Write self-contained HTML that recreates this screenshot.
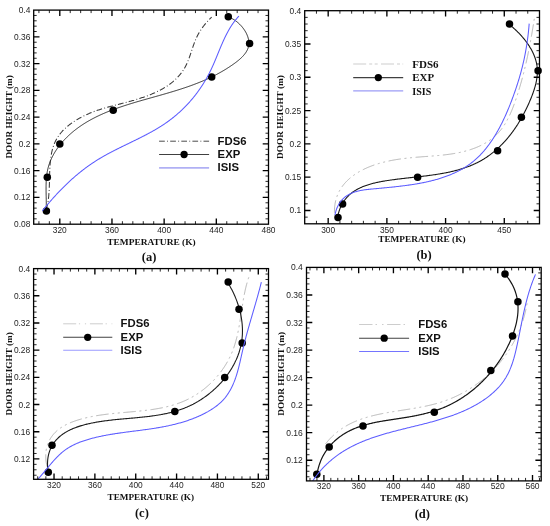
<!DOCTYPE html>
<html><head><meta charset="utf-8"><title>Temperature profiles</title>
<style>html,body{margin:0;padding:0;background:#fff;}body{width:550px;height:526px;overflow:hidden;}svg{display:block;}</style>
</head><body>
<svg width="550" height="526" viewBox="0 0 550 526">
<rect width="550" height="526" fill="#fff"/>
<defs><clipPath id="ca"><rect x="33.7" y="10.1" width="234.8" height="214.1"/></clipPath><clipPath id="cb"><rect x="304.7" y="10.7" width="234.8" height="213.1"/></clipPath><clipPath id="cc"><rect x="33.6" y="268.6" width="234.9" height="210.7"/></clipPath><clipPath id="cd"><rect x="306.5" y="267.4" width="234.7" height="213.5"/></clipPath></defs>
<path d="M46.15,209.68 L46.34,209.06 L46.53,208.43 L46.7,207.79 L46.87,207.15 L47.03,206.51 L47.18,205.86 L47.33,205.21 L47.47,204.55 L47.6,203.89 L47.73,203.23 L47.85,202.56 L47.97,201.89 L48.08,201.22 L48.18,200.54 L48.28,199.86 L48.37,199.18 L48.45,198.49 L48.54,197.8 L48.61,197.11 L48.69,196.41 L48.75,195.71 L48.82,195.01 L48.88,194.31 L48.93,193.6 L48.98,192.9 L49.03,192.19 L49.08,191.48 L49.12,190.76 L49.16,190.05 L49.19,189.33 L49.23,188.61 L49.26,187.89 L49.29,187.17 L49.32,186.44 L49.34,185.72 L49.36,184.99 L49.39,184.26 L49.41,183.54 L49.43,182.81 L49.44,182.08 L49.46,181.35 L49.48,180.61 L49.5,179.88 L49.51,179.15 L49.53,178.42 L49.55,177.69 L49.56,176.95 L49.58,176.22 L49.6,175.49 L49.62,174.76 L49.64,174.02 L49.66,173.29 L49.68,172.56 L49.71,171.83 L49.73,171.1 L49.76,170.37 L49.79,169.64 L49.82,168.91 L49.86,168.19 L49.9,167.46 L49.94,166.74 L49.98,166.02 L50.03,165.3 L50.08,164.58 L50.13,163.86 L50.19,163.14 L50.25,162.43 L50.32,161.72 L50.39,161.01 L50.47,160.3 L50.55,159.59 L50.63,158.89 L50.72,158.19 L50.82,157.49 L50.92,156.8 L51.03,156.1 L51.14,155.41 L51.26,154.73 L51.38,154.04 L51.51,153.36 L51.65,152.68 L51.79,152.01 L51.95,151.34 L52.1,150.67 L52.27,150.01 L52.44,149.35 L52.62,148.69 L52.81,148.04 L53.01,147.39 L53.22,146.75 L53.43,146.11 L53.65,145.47 L53.88,144.84 L54.12,144.22 L54.37,143.59 L54.63,142.98 L54.9,142.37 L55.18,141.76 L55.46,141.16 L55.76,140.56 L56.07,139.97 L56.39,139.38 L56.72,138.8 L57.06,138.22 L57.41,137.65 L57.76,137.09 L58.13,136.53 L58.51,135.97 L58.9,135.42 L59.3,134.88 L59.71,134.34 L60.12,133.81 L60.55,133.28 L60.98,132.76 L61.43,132.24 L61.88,131.73 L62.34,131.22 L62.8,130.72 L63.28,130.22 L63.76,129.73 L64.25,129.24 L64.75,128.76 L65.26,128.28 L65.77,127.81 L66.29,127.35 L66.81,126.89 L67.35,126.43 L67.88,125.98 L68.43,125.54 L68.98,125.1 L69.54,124.66 L70.1,124.23 L70.67,123.81 L71.24,123.39 L71.82,122.97 L72.41,122.56 L73,122.16 L73.59,121.76 L74.19,121.36 L74.79,120.97 L75.4,120.58 L76.01,120.2 L76.63,119.83 L77.25,119.46 L77.87,119.09 L78.5,118.73 L79.13,118.38 L79.76,118.03 L80.4,117.68 L81.03,117.34 L81.68,117 L82.32,116.67 L82.97,116.34 L83.61,116.02 L84.26,115.71 L84.92,115.39 L85.57,115.09 L86.23,114.78 L86.88,114.49 L87.54,114.19 L88.2,113.9 L88.86,113.62 L89.52,113.34 L90.18,113.07 L90.84,112.8 L91.5,112.53 L92.16,112.27 L92.82,112.01 L93.49,111.76 L94.15,111.51 L94.81,111.27 L95.48,111.03 L96.14,110.79 L96.81,110.56 L97.47,110.33 L98.14,110.1 L98.8,109.88 L99.47,109.66 L100.13,109.45 L100.8,109.23 L101.47,109.02 L102.13,108.82 L102.8,108.61 L103.47,108.41 L104.14,108.21 L104.81,108.01 L105.48,107.82 L106.15,107.62 L106.82,107.43 L107.49,107.24 L108.16,107.06 L108.83,106.87 L109.51,106.69 L110.18,106.5 L110.85,106.32 L111.53,106.14 L112.2,105.96 L112.87,105.79 L113.55,105.61 L114.23,105.43 L114.9,105.26 L115.58,105.08 L116.25,104.91 L116.93,104.74 L117.61,104.56 L118.29,104.39 L118.97,104.21 L119.65,104.04 L120.33,103.87 L121.01,103.69 L121.69,103.52 L122.37,103.34 L123.05,103.17 L123.73,102.99 L124.41,102.81 L125.1,102.64 L125.78,102.46 L126.47,102.28 L127.15,102.09 L127.84,101.91 L128.52,101.73 L129.21,101.54 L129.9,101.35 L130.58,101.16 L131.27,100.97 L131.96,100.78 L132.65,100.58 L133.33,100.38 L134.02,100.19 L134.71,99.98 L135.39,99.78 L136.08,99.58 L136.77,99.37 L137.45,99.16 L138.14,98.95 L138.82,98.73 L139.51,98.51 L140.19,98.29 L140.87,98.07 L141.55,97.85 L142.23,97.62 L142.91,97.39 L143.59,97.16 L144.27,96.92 L144.94,96.68 L145.62,96.44 L146.29,96.2 L146.96,95.95 L147.63,95.7 L148.29,95.44 L148.96,95.19 L149.62,94.93 L150.28,94.66 L150.94,94.39 L151.6,94.12 L152.25,93.85 L152.9,93.57 L153.55,93.29 L154.2,93 L154.84,92.72 L155.48,92.42 L156.12,92.13 L156.76,91.83 L157.39,91.52 L158.02,91.21 L158.64,90.9 L159.27,90.59 L159.89,90.26 L160.5,89.94 L161.12,89.61 L161.73,89.28 L162.33,88.94 L162.93,88.6 L163.53,88.25 L164.13,87.9 L164.72,87.54 L165.3,87.18 L165.88,86.81 L166.46,86.44 L167.03,86.07 L167.6,85.69 L168.17,85.3 L168.73,84.91 L169.28,84.52 L169.83,84.12 L170.38,83.71 L170.92,83.3 L171.46,82.89 L171.99,82.46 L172.51,82.04 L173.03,81.61 L173.55,81.17 L174.06,80.72 L174.56,80.28 L175.06,79.82 L175.55,79.36 L176.04,78.89 L176.52,78.42 L177,77.94 L177.47,77.46 L177.93,76.97 L178.39,76.47 L178.84,75.97 L179.29,75.46 L179.72,74.95 L180.16,74.43 L180.58,73.9 L181,73.37 L181.41,72.83 L181.82,72.28 L182.22,71.73 L182.61,71.17 L182.99,70.6 L183.37,70.02 L183.74,69.44 L184.1,68.86 L184.46,68.26 L184.81,67.66 L185.15,67.05 L185.48,66.44 L185.8,65.82 L186.12,65.19 L186.43,64.55 L186.73,63.91 L187.03,63.26 L187.32,62.6 L187.6,61.94 L187.88,61.27 L188.15,60.6 L188.42,59.93 L188.68,59.25 L188.94,58.56 L189.19,57.87 L189.44,57.18 L189.69,56.49 L189.93,55.79 L190.17,55.09 L190.41,54.39 L190.65,53.69 L190.88,52.99 L191.12,52.28 L191.35,51.58 L191.58,50.87 L191.82,50.16 L192.05,49.46 L192.29,48.75 L192.52,48.05 L192.76,47.35 L193,46.65 L193.24,45.95 L193.48,45.25 L193.73,44.56 L193.98,43.87 L194.23,43.19 L194.48,42.5 L194.75,41.82 L195.01,41.15 L195.28,40.48 L195.56,39.82 L195.84,39.16 L196.13,38.5 L196.42,37.86 L196.72,37.22 L197.03,36.58 L197.34,35.95 L197.66,35.33 L197.99,34.71 L198.32,34.09 L198.65,33.48 L199,32.88 L199.35,32.28 L199.7,31.69 L200.07,31.1 L200.44,30.52 L200.81,29.94 L201.19,29.36 L201.58,28.79 L201.97,28.22 L202.37,27.66 L202.78,27.1 L203.19,26.55 L203.61,26 L204.03,25.45 L204.46,24.91 L204.9,24.37 L205.34,23.84 L205.79,23.3 L206.25,22.77 L206.71,22.25 L207.17,21.72 L207.65,21.2 L208.13,20.69 L208.61,20.17 L209.1,19.66 L209.6,19.15 L210.1,18.64 L210.61,18.14 L211.13,17.64 L211.65,17.14" fill="none" stroke="#383838" stroke-width="1.05" stroke-linejoin="round" stroke-dasharray="5.7 2.3 0.9 2.2" clip-path="url(#ca)"/>
<path d="M46.12,210.76 L46.16,210.01 L46.2,209.24 L46.23,208.48 L46.25,207.7 L46.27,206.93 L46.28,206.14 L46.29,205.35 L46.29,204.56 L46.3,203.77 L46.29,202.97 L46.29,202.16 L46.28,201.35 L46.27,200.54 L46.25,199.73 L46.24,198.91 L46.22,198.09 L46.2,197.27 L46.19,196.44 L46.17,195.62 L46.15,194.79 L46.13,193.95 L46.12,193.12 L46.1,192.29 L46.09,191.45 L46.08,190.61 L46.07,189.78 L46.07,188.94 L46.07,188.1 L46.07,187.26 L46.07,186.42 L46.08,185.58 L46.1,184.74 L46.12,183.9 L46.15,183.07 L46.18,182.23 L46.22,181.39 L46.26,180.56 L46.31,179.72 L46.37,178.89 L46.44,178.06 L46.52,177.23 L46.6,176.41 L46.69,175.58 L46.8,174.76 L46.91,173.95 L47.03,173.13 L47.17,172.32 L47.31,171.51 L47.47,170.71 L47.63,169.9 L47.81,169.11 L48,168.31 L48.21,167.53 L48.42,166.74 L48.65,165.96 L48.89,165.18 L49.14,164.41 L49.4,163.64 L49.68,162.88 L49.96,162.12 L50.26,161.37 L50.56,160.62 L50.88,159.87 L51.2,159.13 L51.54,158.4 L51.89,157.66 L52.25,156.94 L52.61,156.22 L52.99,155.5 L53.37,154.78 L53.77,154.08 L54.17,153.37 L54.59,152.67 L55.01,151.98 L55.44,151.29 L55.87,150.61 L56.32,149.93 L56.77,149.25 L57.24,148.58 L57.7,147.92 L58.18,147.26 L58.67,146.61 L59.16,145.96 L59.66,145.31 L60.16,144.68 L60.67,144.04 L61.19,143.41 L61.71,142.79 L62.25,142.17 L62.78,141.56 L63.32,140.96 L63.87,140.35 L64.42,139.76 L64.98,139.17 L65.55,138.58 L66.11,138 L66.69,137.43 L67.27,136.86 L67.85,136.3 L68.43,135.74 L69.02,135.19 L69.62,134.65 L70.22,134.11 L70.82,133.57 L71.43,133.04 L72.04,132.52 L72.65,132 L73.27,131.49 L73.89,130.98 L74.51,130.48 L75.14,129.98 L75.77,129.49 L76.41,129 L77.05,128.52 L77.69,128.05 L78.34,127.57 L78.99,127.11 L79.64,126.65 L80.3,126.19 L80.96,125.74 L81.62,125.29 L82.29,124.84 L82.96,124.41 L83.63,123.97 L84.31,123.54 L84.99,123.12 L85.67,122.7 L86.36,122.28 L87.04,121.87 L87.74,121.46 L88.43,121.06 L89.13,120.66 L89.83,120.27 L90.53,119.87 L91.23,119.49 L91.94,119.1 L92.65,118.73 L93.37,118.35 L94.08,117.98 L94.8,117.61 L95.52,117.25 L96.24,116.89 L96.97,116.53 L97.7,116.18 L98.43,115.83 L99.16,115.48 L99.89,115.14 L100.63,114.8 L101.37,114.47 L102.11,114.13 L102.86,113.81 L103.6,113.48 L104.35,113.16 L105.1,112.84 L105.85,112.52 L106.6,112.21 L107.36,111.9 L108.12,111.59 L108.88,111.28 L109.64,110.98 L110.4,110.68 L111.16,110.39 L111.93,110.09 L112.7,109.8 L113.47,109.51 L114.24,109.23 L115.01,108.94 L115.78,108.66 L116.56,108.38 L117.33,108.1 L118.11,107.83 L118.89,107.56 L119.67,107.29 L120.45,107.02 L121.23,106.75 L122.02,106.49 L122.8,106.23 L123.59,105.97 L124.37,105.71 L125.16,105.45 L125.95,105.2 L126.74,104.95 L127.53,104.7 L128.32,104.45 L129.11,104.2 L129.9,103.95 L130.7,103.71 L131.49,103.46 L132.29,103.22 L133.08,102.98 L133.88,102.74 L134.67,102.5 L135.47,102.27 L136.27,102.03 L137.06,101.79 L137.86,101.56 L138.66,101.33 L139.46,101.1 L140.26,100.87 L141.06,100.64 L141.85,100.41 L142.65,100.18 L143.45,99.95 L144.25,99.72 L145.05,99.5 L145.85,99.27 L146.65,99.05 L147.45,98.82 L148.25,98.6 L149.04,98.37 L149.84,98.15 L150.64,97.92 L151.44,97.7 L152.24,97.48 L153.03,97.25 L153.83,97.03 L154.63,96.81 L155.42,96.58 L156.22,96.36 L157.01,96.14 L157.8,95.91 L158.6,95.69 L159.39,95.47 L160.18,95.24 L160.97,95.02 L161.77,94.79 L162.56,94.57 L163.35,94.34 L164.14,94.11 L164.92,93.89 L165.71,93.66 L166.5,93.43 L167.29,93.2 L168.07,92.97 L168.86,92.74 L169.64,92.51 L170.43,92.28 L171.21,92.04 L172,91.81 L172.78,91.57 L173.56,91.34 L174.34,91.1 L175.12,90.86 L175.9,90.62 L176.68,90.38 L177.45,90.13 L178.23,89.89 L179.01,89.64 L179.78,89.39 L180.56,89.15 L181.33,88.9 L182.1,88.64 L182.87,88.39 L183.65,88.13 L184.42,87.88 L185.19,87.62 L185.95,87.36 L186.72,87.09 L187.49,86.83 L188.25,86.56 L189.02,86.29 L189.78,86.02 L190.54,85.75 L191.31,85.47 L192.07,85.2 L192.83,84.92 L193.58,84.63 L194.34,84.35 L195.1,84.06 L195.85,83.77 L196.61,83.48 L197.36,83.19 L198.12,82.89 L198.87,82.59 L199.62,82.29 L200.37,81.98 L201.11,81.67 L201.86,81.36 L202.61,81.05 L203.35,80.73 L204.09,80.41 L204.84,80.09 L205.58,79.76 L206.32,79.43 L207.06,79.1 L207.79,78.76 L208.53,78.42 L209.27,78.08 L210,77.74 L210.73,77.39 L211.46,77.04 L212.19,76.68 L212.92,76.32 L213.65,75.96 L214.38,75.59 L215.1,75.22 L215.82,74.85 L216.55,74.47 L217.27,74.09 L217.99,73.7 L218.7,73.31 L219.42,72.92 L220.14,72.52 L220.85,72.12 L221.56,71.71 L222.27,71.3 L222.98,70.89 L223.69,70.47 L224.4,70.05 L225.1,69.62 L225.81,69.19 L226.51,68.75 L227.21,68.31 L227.91,67.86 L228.61,67.41 L229.3,66.96 L230,66.5 L230.69,66.04 L231.38,65.57 L232.07,65.1 L232.76,64.62 L233.45,64.13 L234.13,63.65 L234.81,63.15 L235.49,62.65 L236.16,62.15 L236.82,61.64 L237.48,61.12 L238.12,60.6 L238.76,60.08 L239.39,59.54 L240,59 L240.6,58.46 L241.19,57.91 L241.77,57.35 L242.33,56.78 L242.87,56.21 L243.4,55.64 L243.91,55.05 L244.4,54.46 L244.87,53.86 L245.32,53.25 L245.75,52.64 L246.15,52.02 L246.53,51.39 L246.89,50.75 L247.22,50.11 L247.52,49.46 L247.8,48.8 L248.04,48.13 L248.26,47.45 L248.45,46.76 L248.61,46.07 L248.73,45.37 L248.82,44.66 L248.88,43.94 L248.9,43.21 L248.89,42.47 L248.84,41.73 L248.76,40.98 L248.65,40.23 L248.51,39.47 L248.34,38.71 L248.14,37.94 L247.91,37.18 L247.66,36.41 L247.37,35.65 L247.06,34.89 L246.72,34.13 L246.36,33.37 L245.97,32.61 L245.55,31.86 L245.12,31.12 L244.66,30.38 L244.17,29.65 L243.67,28.93 L243.15,28.22 L242.6,27.52 L242.04,26.82 L241.45,26.14 L240.85,25.48 L240.23,24.83 L239.6,24.19 L238.95,23.56 L238.28,22.96 L237.6,22.37 L236.9,21.8 L236.19,21.25 L235.47,20.71 L234.73,20.2 L233.99,19.71 L233.23,19.24 L232.46,18.8 L231.69,18.38 L230.9,17.99 L230.11,17.62 L229.31,17.28 L228.5,16.96 L227.69,16.68" fill="none" stroke="#2a2a2a" stroke-width="1.0" stroke-linejoin="round" clip-path="url(#ca)"/>
<g fill="#000"><circle cx="46.4" cy="210.9" r="3.75"/><circle cx="47.3" cy="177.3" r="3.75"/><circle cx="59.8" cy="143.9" r="3.75"/><circle cx="113.2" cy="110.3" r="3.75"/><circle cx="211.7" cy="76.9" r="3.75"/><circle cx="249.6" cy="43.5" r="3.75"/><circle cx="228.3" cy="16.7" r="3.75"/></g>
<path d="M42.35,210.85 L42.8,210.28 L43.26,209.72 L43.71,209.16 L44.17,208.6 L44.63,208.04 L45.09,207.48 L45.54,206.93 L46.01,206.37 L46.47,205.82 L46.93,205.27 L47.39,204.71 L47.86,204.16 L48.32,203.61 L48.79,203.07 L49.26,202.52 L49.73,201.98 L50.2,201.43 L50.67,200.89 L51.14,200.35 L51.62,199.81 L52.09,199.27 L52.57,198.73 L53.05,198.2 L53.52,197.66 L54,197.13 L54.49,196.6 L54.97,196.07 L55.45,195.54 L55.94,195.01 L56.42,194.48 L56.91,193.96 L57.4,193.44 L57.89,192.91 L58.38,192.4 L58.87,191.88 L59.36,191.36 L59.86,190.84 L60.35,190.33 L60.85,189.82 L61.35,189.31 L61.85,188.8 L62.35,188.29 L62.86,187.79 L63.36,187.28 L63.87,186.78 L64.37,186.28 L64.88,185.78 L65.39,185.28 L65.9,184.79 L66.41,184.29 L66.93,183.8 L67.44,183.31 L67.96,182.82 L68.48,182.34 L69,181.85 L69.52,181.37 L70.04,180.89 L70.57,180.41 L71.09,179.93 L71.62,179.45 L72.15,178.98 L72.68,178.51 L73.21,178.04 L73.74,177.57 L74.28,177.1 L74.81,176.64 L75.35,176.18 L75.89,175.72 L76.43,175.26 L76.98,174.8 L77.52,174.35 L78.07,173.89 L78.61,173.44 L79.16,172.99 L79.71,172.55 L80.26,172.1 L80.82,171.66 L81.37,171.22 L81.93,170.78 L82.49,170.35 L83.05,169.91 L83.61,169.48 L84.18,169.05 L84.74,168.62 L85.31,168.2 L85.88,167.78 L86.45,167.35 L87.02,166.94 L87.6,166.52 L88.17,166.11 L88.75,165.69 L89.33,165.28 L89.91,164.88 L90.49,164.47 L91.08,164.07 L91.66,163.67 L92.25,163.27 L92.84,162.87 L93.44,162.48 L94.03,162.09 L94.63,161.7 L95.22,161.32 L95.82,160.93 L96.42,160.55 L97.03,160.17 L97.63,159.8 L98.24,159.42 L98.85,159.05 L99.46,158.68 L100.07,158.31 L100.68,157.95 L101.3,157.59 L101.92,157.23 L102.54,156.87 L103.16,156.51 L103.78,156.16 L104.4,155.8 L105.03,155.45 L105.65,155.1 L106.28,154.76 L106.91,154.41 L107.54,154.07 L108.17,153.73 L108.8,153.39 L109.44,153.05 L110.07,152.71 L110.71,152.38 L111.35,152.04 L111.98,151.71 L112.62,151.38 L113.26,151.05 L113.91,150.72 L114.55,150.39 L115.19,150.06 L115.83,149.74 L116.48,149.41 L117.12,149.09 L117.77,148.76 L118.41,148.44 L119.06,148.12 L119.71,147.8 L120.36,147.48 L121,147.16 L121.65,146.84 L122.3,146.52 L122.95,146.2 L123.6,145.89 L124.25,145.57 L124.9,145.25 L125.55,144.94 L126.2,144.62 L126.86,144.3 L127.51,143.99 L128.16,143.67 L128.81,143.36 L129.46,143.04 L130.11,142.72 L130.76,142.41 L131.41,142.09 L132.06,141.78 L132.71,141.46 L133.36,141.14 L134.01,140.83 L134.66,140.51 L135.31,140.19 L135.96,139.87 L136.61,139.55 L137.25,139.23 L137.9,138.91 L138.55,138.59 L139.19,138.27 L139.84,137.95 L140.48,137.62 L141.13,137.3 L141.77,136.97 L142.41,136.65 L143.05,136.32 L143.69,135.99 L144.33,135.66 L144.97,135.33 L145.61,135 L146.25,134.67 L146.88,134.33 L147.52,134 L148.15,133.66 L148.78,133.32 L149.41,132.98 L150.04,132.64 L150.67,132.29 L151.3,131.95 L151.92,131.6 L152.55,131.25 L153.17,130.9 L153.79,130.55 L154.41,130.19 L155.03,129.83 L155.64,129.48 L156.26,129.11 L156.87,128.75 L157.48,128.39 L158.09,128.02 L158.7,127.65 L159.3,127.28 L159.91,126.9 L160.51,126.52 L161.11,126.15 L161.71,125.76 L162.3,125.38 L162.9,124.99 L163.49,124.6 L164.08,124.21 L164.66,123.81 L165.25,123.41 L165.83,123.01 L166.41,122.61 L166.99,122.2 L167.57,121.79 L168.14,121.38 L168.71,120.96 L169.28,120.54 L169.85,120.12 L170.41,119.7 L170.97,119.27 L171.53,118.84 L172.09,118.4 L172.64,117.97 L173.19,117.53 L173.74,117.09 L174.29,116.64 L174.83,116.19 L175.38,115.74 L175.91,115.29 L176.45,114.84 L176.99,114.38 L177.52,113.92 L178.05,113.45 L178.58,112.98 L179.1,112.52 L179.62,112.04 L180.14,111.57 L180.66,111.09 L181.17,110.61 L181.69,110.13 L182.19,109.64 L182.7,109.15 L183.21,108.66 L183.71,108.17 L184.21,107.67 L184.7,107.17 L185.2,106.67 L185.69,106.17 L186.18,105.66 L186.66,105.15 L187.15,104.64 L187.63,104.13 L188.1,103.61 L188.58,103.09 L189.05,102.57 L189.52,102.04 L189.99,101.52 L190.45,100.99 L190.92,100.46 L191.38,99.92 L191.83,99.39 L192.29,98.85 L192.74,98.31 L193.19,97.76 L193.63,97.22 L194.07,96.67 L194.51,96.12 L194.95,95.56 L195.39,95.01 L195.82,94.45 L196.25,93.89 L196.67,93.32 L197.1,92.76 L197.52,92.19 L197.93,91.62 L198.35,91.05 L198.76,90.48 L199.17,89.9 L199.58,89.32 L199.98,88.74 L200.38,88.16 L200.78,87.57 L201.17,86.98 L201.57,86.39 L201.95,85.8 L202.34,85.21 L202.72,84.61 L203.1,84.01 L203.48,83.41 L203.86,82.81 L204.23,82.2 L204.59,81.59 L204.96,80.98 L205.32,80.37 L205.68,79.76 L206.04,79.14 L206.39,78.53 L206.74,77.91 L207.09,77.28 L207.43,76.66 L207.78,76.03 L208.11,75.41 L208.45,74.78 L208.78,74.14 L209.11,73.51 L209.44,72.87 L209.76,72.24 L210.08,71.6 L210.4,70.95 L210.71,70.31 L211.02,69.67 L211.33,69.02 L211.63,68.37 L211.94,67.72 L212.24,67.07 L212.53,66.41 L212.83,65.76 L213.12,65.1 L213.41,64.44 L213.7,63.78 L213.99,63.12 L214.27,62.46 L214.55,61.8 L214.84,61.13 L215.12,60.47 L215.39,59.81 L215.67,59.14 L215.95,58.47 L216.23,57.81 L216.5,57.14 L216.77,56.47 L217.05,55.81 L217.32,55.14 L217.6,54.47 L217.87,53.8 L218.14,53.14 L218.41,52.47 L218.69,51.8 L218.96,51.13 L219.23,50.47 L219.51,49.8 L219.78,49.13 L220.06,48.47 L220.34,47.8 L220.61,47.14 L220.89,46.48 L221.17,45.82 L221.45,45.16 L221.74,44.5 L222.02,43.84 L222.31,43.18 L222.59,42.52 L222.88,41.87 L223.18,41.22 L223.47,40.56 L223.77,39.91 L224.07,39.26 L224.37,38.62 L224.67,37.97 L224.98,37.33 L225.29,36.69 L225.6,36.05 L225.92,35.41 L226.24,34.78 L226.56,34.15 L226.88,33.52 L227.21,32.89 L227.55,32.27 L227.89,31.64 L228.23,31.02 L228.57,30.41 L228.92,29.79 L229.28,29.18 L229.64,28.58 L230,27.97 L230.37,27.37 L230.74,26.77 L231.12,26.18 L231.5,25.59 L231.89,25 L232.28,24.41 L232.68,23.83 L233.08,23.26 L233.49,22.68 L233.91,22.12 L234.33,21.55 L234.76,20.99 L235.19,20.43 L235.63,19.88 L236.08,19.33 L236.53,18.79 L236.99,18.25 L237.46,17.71 L237.93,17.18 L238.41,16.66 L238.9,16.13" fill="none" stroke="#5c5cff" stroke-width="1.05" stroke-linejoin="round" clip-path="url(#ca)"/>
<line x1="159.1" y1="141.2" x2="209.1" y2="141.2" stroke="#4a4a4a" stroke-width="1.0" stroke-dasharray="5.7 2.3 0.9 2.2"/>
<line x1="159.1" y1="154.5" x2="209.1" y2="154.5" stroke="#404040" stroke-width="1.05"/>
<circle cx="184.1" cy="154.5" r="3.65" fill="#000"/>
<line x1="159.1" y1="167.8" x2="209.1" y2="167.8" stroke="#b0b0f4" stroke-width="1.8"/>
<text x="217.6" y="144.8" font-family='"Liberation Sans", Arial, sans-serif' font-weight="bold" font-size="11.3" fill="#111">FDS6</text>
<text x="217.6" y="158.1" font-family='"Liberation Sans", Arial, sans-serif' font-weight="bold" font-size="11.3" fill="#111">EXP</text>
<text x="217.6" y="171.4" font-family='"Liberation Sans", Arial, sans-serif' font-weight="bold" font-size="11.3" fill="#111">ISIS</text>
<g stroke="#000" fill="none" stroke-linecap="butt"><path d="M38.92,224.2 v-3 M38.92,10.1 v3" stroke-width="0.85"/><path d="M49.35,224.2 v-3 M49.35,10.1 v3" stroke-width="0.85"/><path d="M59.79,224.2 v-5.8 M59.79,10.1 v5.8" stroke-width="1.35"/><path d="M70.22,224.2 v-3 M70.22,10.1 v3" stroke-width="0.85"/><path d="M80.66,224.2 v-3 M80.66,10.1 v3" stroke-width="0.85"/><path d="M91.1,224.2 v-3 M91.1,10.1 v3" stroke-width="0.85"/><path d="M101.53,224.2 v-3 M101.53,10.1 v3" stroke-width="0.85"/><path d="M111.97,224.2 v-5.8 M111.97,10.1 v5.8" stroke-width="1.35"/><path d="M122.4,224.2 v-3 M122.4,10.1 v3" stroke-width="0.85"/><path d="M132.84,224.2 v-3 M132.84,10.1 v3" stroke-width="0.85"/><path d="M143.27,224.2 v-3 M143.27,10.1 v3" stroke-width="0.85"/><path d="M153.71,224.2 v-3 M153.71,10.1 v3" stroke-width="0.85"/><path d="M164.14,224.2 v-5.8 M164.14,10.1 v5.8" stroke-width="1.35"/><path d="M174.58,224.2 v-3 M174.58,10.1 v3" stroke-width="0.85"/><path d="M185.02,224.2 v-3 M185.02,10.1 v3" stroke-width="0.85"/><path d="M195.45,224.2 v-3 M195.45,10.1 v3" stroke-width="0.85"/><path d="M205.89,224.2 v-3 M205.89,10.1 v3" stroke-width="0.85"/><path d="M216.32,224.2 v-5.8 M216.32,10.1 v5.8" stroke-width="1.35"/><path d="M226.76,224.2 v-3 M226.76,10.1 v3" stroke-width="0.85"/><path d="M237.19,224.2 v-3 M237.19,10.1 v3" stroke-width="0.85"/><path d="M247.63,224.2 v-3 M247.63,10.1 v3" stroke-width="0.85"/><path d="M258.06,224.2 v-3 M258.06,10.1 v3" stroke-width="0.85"/><path d="M33.7,218.85 h3 M268.5,218.85 h-3" stroke-width="0.85"/><path d="M33.7,213.49 h3 M268.5,213.49 h-3" stroke-width="0.85"/><path d="M33.7,208.14 h3 M268.5,208.14 h-3" stroke-width="0.85"/><path d="M33.7,202.79 h3 M268.5,202.79 h-3" stroke-width="0.85"/><path d="M33.7,197.44 h5.8 M268.5,197.44 h-5.8" stroke-width="1.35"/><path d="M33.7,192.08 h3 M268.5,192.08 h-3" stroke-width="0.85"/><path d="M33.7,186.73 h3 M268.5,186.73 h-3" stroke-width="0.85"/><path d="M33.7,181.38 h3 M268.5,181.38 h-3" stroke-width="0.85"/><path d="M33.7,176.03 h3 M268.5,176.03 h-3" stroke-width="0.85"/><path d="M33.7,170.67 h5.8 M268.5,170.67 h-5.8" stroke-width="1.35"/><path d="M33.7,165.32 h3 M268.5,165.32 h-3" stroke-width="0.85"/><path d="M33.7,159.97 h3 M268.5,159.97 h-3" stroke-width="0.85"/><path d="M33.7,154.62 h3 M268.5,154.62 h-3" stroke-width="0.85"/><path d="M33.7,149.26 h3 M268.5,149.26 h-3" stroke-width="0.85"/><path d="M33.7,143.91 h5.8 M268.5,143.91 h-5.8" stroke-width="1.35"/><path d="M33.7,138.56 h3 M268.5,138.56 h-3" stroke-width="0.85"/><path d="M33.7,133.21 h3 M268.5,133.21 h-3" stroke-width="0.85"/><path d="M33.7,127.85 h3 M268.5,127.85 h-3" stroke-width="0.85"/><path d="M33.7,122.5 h3 M268.5,122.5 h-3" stroke-width="0.85"/><path d="M33.7,117.15 h5.8 M268.5,117.15 h-5.8" stroke-width="1.35"/><path d="M33.7,111.8 h3 M268.5,111.8 h-3" stroke-width="0.85"/><path d="M33.7,106.45 h3 M268.5,106.45 h-3" stroke-width="0.85"/><path d="M33.7,101.09 h3 M268.5,101.09 h-3" stroke-width="0.85"/><path d="M33.7,95.74 h3 M268.5,95.74 h-3" stroke-width="0.85"/><path d="M33.7,90.39 h5.8 M268.5,90.39 h-5.8" stroke-width="1.35"/><path d="M33.7,85.04 h3 M268.5,85.04 h-3" stroke-width="0.85"/><path d="M33.7,79.68 h3 M268.5,79.68 h-3" stroke-width="0.85"/><path d="M33.7,74.33 h3 M268.5,74.33 h-3" stroke-width="0.85"/><path d="M33.7,68.98 h3 M268.5,68.98 h-3" stroke-width="0.85"/><path d="M33.7,63.62 h5.8 M268.5,63.62 h-5.8" stroke-width="1.35"/><path d="M33.7,58.27 h3 M268.5,58.27 h-3" stroke-width="0.85"/><path d="M33.7,52.92 h3 M268.5,52.92 h-3" stroke-width="0.85"/><path d="M33.7,47.57 h3 M268.5,47.57 h-3" stroke-width="0.85"/><path d="M33.7,42.22 h3 M268.5,42.22 h-3" stroke-width="0.85"/><path d="M33.7,36.86 h5.8 M268.5,36.86 h-5.8" stroke-width="1.35"/><path d="M33.7,31.51 h3 M268.5,31.51 h-3" stroke-width="0.85"/><path d="M33.7,26.16 h3 M268.5,26.16 h-3" stroke-width="0.85"/><path d="M33.7,20.81 h3 M268.5,20.81 h-3" stroke-width="0.85"/><path d="M33.7,15.45 h3 M268.5,15.45 h-3" stroke-width="0.85"/></g>
<rect x="33.7" y="10.1" width="234.8" height="214.1" fill="none" stroke="#000" stroke-width="1.3"/>
<g font-family='"Liberation Sans", Arial, sans-serif' font-size="8.4" fill="#1e1e1e" text-anchor="middle"><text x="59.79" y="232.8">320</text><text x="111.97" y="232.8">360</text><text x="164.14" y="232.8">400</text><text x="216.32" y="232.8">440</text><text x="268.5" y="232.8">480</text></g>
<g font-family='"Liberation Sans", Arial, sans-serif' font-size="8.4" fill="#1e1e1e" text-anchor="end"><text x="30.3" y="227.2">0.08</text><text x="30.3" y="200.44">0.12</text><text x="30.3" y="173.67">0.16</text><text x="30.3" y="146.91">0.2</text><text x="30.3" y="120.15">0.24</text><text x="30.3" y="93.39">0.28</text><text x="30.3" y="66.62">0.32</text><text x="30.3" y="39.86">0.36</text><text x="30.3" y="13.1">0.4</text></g>
<text x="107.3" y="244.6" font-family='"Liberation Serif", "Times New Roman", serif' font-weight="bold" font-size="9.2" fill="#111" textLength="88.3" lengthAdjust="spacingAndGlyphs">TEMPERATURE (K)</text>
<text transform="translate(11.9,158.6) rotate(-90)" font-family='"Liberation Serif", "Times New Roman", serif' font-weight="bold" font-size="9.2" fill="#111" textLength="83.4" lengthAdjust="spacingAndGlyphs">DOOR HEIGHT (m)</text>
<text x="149.1" y="260.5" font-family='"Liberation Serif", "Times New Roman", serif' font-weight="bold" font-size="12.5" fill="#111" text-anchor="middle">(a)</text>
<path d="M334.47,212.68 L334.45,211.73 L334.46,210.8 L334.48,209.88 L334.51,208.96 L334.56,208.06 L334.63,207.17 L334.72,206.29 L334.82,205.41 L334.94,204.55 L335.07,203.7 L335.22,202.86 L335.38,202.03 L335.56,201.21 L335.76,200.4 L335.97,199.6 L336.19,198.81 L336.43,198.02 L336.68,197.25 L336.94,196.49 L337.22,195.74 L337.51,194.99 L337.82,194.26 L338.14,193.54 L338.47,192.82 L338.81,192.12 L339.17,191.42 L339.54,190.73 L339.92,190.06 L340.31,189.39 L340.72,188.73 L341.14,188.08 L341.56,187.44 L342,186.8 L342.45,186.18 L342.91,185.56 L343.38,184.96 L343.87,184.36 L344.36,183.77 L344.86,183.19 L345.37,182.61 L345.89,182.05 L346.42,181.49 L346.96,180.95 L347.51,180.41 L348.07,179.88 L348.63,179.35 L349.21,178.84 L349.79,178.33 L350.38,177.83 L350.98,177.34 L351.58,176.85 L352.2,176.38 L352.82,175.91 L353.45,175.45 L354.08,175 L354.72,174.55 L355.37,174.11 L356.02,173.68 L356.68,173.26 L357.35,172.84 L358.02,172.43 L358.69,172.03 L359.38,171.63 L360.06,171.25 L360.75,170.86 L361.45,170.49 L362.15,170.12 L362.86,169.76 L363.56,169.41 L364.28,169.06 L364.99,168.72 L365.71,168.39 L366.44,168.06 L367.16,167.74 L367.89,167.43 L368.62,167.12 L369.36,166.82 L370.09,166.52 L370.83,166.23 L371.58,165.95 L372.32,165.67 L373.06,165.4 L373.81,165.13 L374.56,164.87 L375.32,164.62 L376.07,164.37 L376.83,164.12 L377.59,163.89 L378.35,163.65 L379.11,163.43 L379.87,163.2 L380.64,162.99 L381.41,162.77 L382.18,162.57 L382.95,162.36 L383.72,162.17 L384.5,161.97 L385.28,161.79 L386.06,161.6 L386.84,161.42 L387.62,161.25 L388.4,161.08 L389.19,160.91 L389.97,160.75 L390.76,160.59 L391.55,160.44 L392.34,160.29 L393.13,160.14 L393.92,160 L394.72,159.86 L395.51,159.73 L396.31,159.59 L397.1,159.47 L397.9,159.34 L398.7,159.22 L399.5,159.1 L400.3,158.99 L401.11,158.88 L401.91,158.77 L402.71,158.66 L403.52,158.56 L404.32,158.46 L405.13,158.36 L405.94,158.27 L406.74,158.17 L407.55,158.08 L408.36,157.99 L409.17,157.91 L409.98,157.83 L410.79,157.75 L411.6,157.67 L412.41,157.59 L413.22,157.51 L414.03,157.44 L414.85,157.37 L415.66,157.3 L416.47,157.23 L417.28,157.16 L418.09,157.1 L418.91,157.03 L419.72,156.97 L420.53,156.91 L421.35,156.84 L422.16,156.78 L422.97,156.72 L423.78,156.66 L424.6,156.6 L425.41,156.54 L426.22,156.48 L427.03,156.42 L427.85,156.36 L428.66,156.29 L429.47,156.23 L430.28,156.17 L431.09,156.11 L431.9,156.04 L432.71,155.98 L433.52,155.92 L434.33,155.85 L435.14,155.78 L435.95,155.71 L436.75,155.64 L437.56,155.57 L438.37,155.5 L439.17,155.42 L439.98,155.34 L440.78,155.26 L441.58,155.18 L442.39,155.1 L443.19,155.01 L443.99,154.92 L444.79,154.83 L445.59,154.74 L446.39,154.64 L447.18,154.54 L447.98,154.44 L448.77,154.33 L449.57,154.22 L450.36,154.11 L451.15,153.99 L451.94,153.87 L452.73,153.75 L453.52,153.62 L454.31,153.49 L455.09,153.35 L455.88,153.21 L456.66,153.07 L457.44,152.92 L458.22,152.77 L459,152.61 L459.78,152.45 L460.55,152.28 L461.33,152.11 L462.1,151.93 L462.87,151.75 L463.64,151.56 L464.41,151.36 L465.17,151.16 L465.94,150.96 L466.7,150.75 L467.46,150.53 L468.22,150.31 L468.98,150.08 L469.73,149.84 L470.49,149.6 L471.24,149.35 L471.99,149.09 L472.73,148.83 L473.48,148.56 L474.22,148.29 L474.96,148.01 L475.69,147.72 L476.42,147.42 L477.15,147.12 L477.88,146.81 L478.6,146.5 L479.32,146.17 L480.03,145.84 L480.74,145.5 L481.45,145.16 L482.15,144.81 L482.84,144.45 L483.53,144.08 L484.22,143.7 L484.9,143.32 L485.58,142.93 L486.25,142.54 L486.91,142.13 L487.57,141.72 L488.23,141.3 L488.87,140.87 L489.51,140.43 L490.15,139.99 L490.78,139.54 L491.4,139.08 L492.01,138.61 L492.62,138.13 L493.22,137.65 L493.81,137.15 L494.4,136.65 L494.97,136.14 L495.54,135.62 L496.1,135.1 L496.66,134.56 L497.2,134.02 L497.74,133.47 L498.27,132.9 L498.79,132.34 L499.3,131.76 L499.8,131.17 L500.29,130.58 L500.78,129.97 L501.26,129.37 L501.73,128.75 L502.2,128.12 L502.65,127.49 L503.1,126.85 L503.54,126.21 L503.98,125.56 L504.41,124.9 L504.83,124.23 L505.24,123.56 L505.65,122.89 L506.05,122.2 L506.44,121.52 L506.83,120.82 L507.22,120.12 L507.59,119.42 L507.96,118.71 L508.33,118 L508.69,117.28 L509.04,116.56 L509.39,115.83 L509.73,115.1 L510.07,114.37 L510.41,113.63 L510.73,112.89 L511.06,112.14 L511.38,111.39 L511.69,110.64 L512,109.89 L512.31,109.13 L512.61,108.37 L512.91,107.61 L513.2,106.84 L513.49,106.08 L513.78,105.31 L514.07,104.54 L514.35,103.77 L514.62,103 L514.9,102.22 L515.17,101.45 L515.44,100.67 L515.7,99.9 L515.97,99.12 L516.23,98.34 L516.48,97.56 L516.74,96.79 L516.99,96.01 L517.25,95.23 L517.5,94.46 L517.74,93.68 L517.99,92.9 L518.23,92.13 L518.47,91.35 L518.71,90.57 L518.95,89.8 L519.19,89.02 L519.42,88.25 L519.65,87.47 L519.88,86.69 L520.11,85.92 L520.34,85.14 L520.56,84.37 L520.78,83.59 L521,82.82 L521.22,82.04 L521.44,81.26 L521.65,80.49 L521.87,79.71 L522.08,78.94 L522.29,78.16 L522.49,77.39 L522.7,76.61 L522.9,75.84 L523.11,75.06 L523.31,74.29 L523.51,73.51 L523.71,72.73 L523.9,71.96 L524.1,71.18 L524.29,70.41 L524.48,69.63 L524.67,68.86 L524.86,68.08 L525.04,67.31 L525.23,66.53 L525.41,65.75 L525.6,64.98 L525.78,64.2 L525.95,63.43 L526.13,62.65 L526.31,61.88 L526.48,61.1 L526.66,60.32 L526.83,59.55 L527,58.77 L527.17,57.99 L527.34,57.22 L527.5,56.44 L527.67,55.66 L527.83,54.89 L528,54.11 L528.16,53.33 L528.32,52.55 L528.48,51.78 L528.64,51 L528.79,50.22 L528.95,49.44 L529.1,48.67 L529.26,47.89 L529.41,47.11 L529.56,46.33 L529.71,45.55 L529.86,44.77 L530.01,43.99 L530.16,43.21 L530.3,42.43 L530.45,41.65 L530.59,40.87 L530.73,40.09 L530.88,39.31 L531.02,38.53 L531.16,37.75 L531.3,36.97 L531.43,36.19 L531.57,35.41 L531.71,34.63 L531.84,33.84 L531.98,33.06 L532.11,32.28 L532.25,31.5 L532.38,30.71 L532.51,29.93 L532.64,29.15 L532.77,28.36 L532.9,27.58 L533.03,26.79 L533.16,26.01 L533.28,25.22 L533.41,24.44 L533.54,23.65 L533.66,22.87 L533.79,22.08 L533.91,21.29 L534.03,20.51 L534.16,19.72 L534.28,18.93 L534.4,18.14" fill="none" stroke="#b4b4b4" stroke-width="1.0" stroke-linejoin="round" stroke-dasharray="12.5 3.6 2 3.6 2 3.6" clip-path="url(#cb)"/>
<path d="M337.47,217.88 L337.65,216.89 L337.84,215.93 L338.05,214.98 L338.28,214.05 L338.51,213.14 L338.77,212.24 L339.04,211.36 L339.32,210.5 L339.61,209.66 L339.92,208.83 L340.25,208.02 L340.58,207.22 L340.94,206.44 L341.3,205.68 L341.68,204.93 L342.07,204.2 L342.47,203.48 L342.88,202.78 L343.31,202.09 L343.75,201.42 L344.2,200.76 L344.66,200.12 L345.14,199.49 L345.63,198.88 L346.12,198.27 L346.63,197.69 L347.15,197.11 L347.68,196.55 L348.22,196 L348.77,195.47 L349.33,194.94 L349.91,194.43 L350.49,193.93 L351.08,193.45 L351.68,192.97 L352.29,192.51 L352.91,192.06 L353.53,191.62 L354.17,191.19 L354.81,190.77 L355.47,190.36 L356.13,189.97 L356.8,189.58 L357.48,189.2 L358.16,188.84 L358.85,188.48 L359.55,188.13 L360.26,187.8 L360.98,187.47 L361.7,187.15 L362.43,186.84 L363.16,186.54 L363.9,186.24 L364.65,185.96 L365.4,185.68 L366.16,185.41 L366.92,185.15 L367.69,184.9 L368.46,184.65 L369.24,184.41 L370.03,184.18 L370.82,183.95 L371.61,183.73 L372.41,183.52 L373.21,183.31 L374.02,183.11 L374.83,182.92 L375.64,182.73 L376.46,182.54 L377.28,182.36 L378.1,182.19 L378.93,182.02 L379.75,181.86 L380.59,181.7 L381.42,181.54 L382.26,181.39 L383.09,181.24 L383.93,181.1 L384.77,180.96 L385.62,180.82 L386.46,180.69 L387.31,180.56 L388.15,180.43 L389,180.3 L389.85,180.18 L390.7,180.06 L391.54,179.94 L392.39,179.82 L393.24,179.71 L394.09,179.59 L394.94,179.48 L395.79,179.37 L396.64,179.26 L397.49,179.16 L398.34,179.05 L399.19,178.95 L400.04,178.84 L400.89,178.74 L401.74,178.64 L402.59,178.54 L403.44,178.44 L404.29,178.34 L405.14,178.25 L405.98,178.15 L406.83,178.05 L407.68,177.96 L408.53,177.86 L409.38,177.77 L410.23,177.67 L411.07,177.58 L411.92,177.49 L412.77,177.39 L413.61,177.3 L414.46,177.2 L415.3,177.11 L416.15,177.02 L416.99,176.92 L417.83,176.83 L418.68,176.73 L419.52,176.63 L420.36,176.54 L421.2,176.44 L422.04,176.34 L422.88,176.24 L423.72,176.14 L424.55,176.04 L425.39,175.94 L426.23,175.83 L427.06,175.73 L427.89,175.62 L428.73,175.51 L429.56,175.4 L430.39,175.29 L431.22,175.18 L432.05,175.06 L432.87,174.95 L433.7,174.83 L434.53,174.71 L435.35,174.59 L436.17,174.46 L436.99,174.33 L437.81,174.2 L438.63,174.07 L439.45,173.94 L440.26,173.8 L441.08,173.66 L441.89,173.52 L442.7,173.38 L443.51,173.23 L444.32,173.08 L445.13,172.92 L445.93,172.77 L446.74,172.61 L447.54,172.44 L448.34,172.27 L449.14,172.1 L449.94,171.93 L450.73,171.75 L451.52,171.57 L452.32,171.39 L453.11,171.2 L453.89,171.01 L454.68,170.81 L455.46,170.61 L456.25,170.4 L457.03,170.19 L457.8,169.98 L458.58,169.76 L459.35,169.54 L460.13,169.31 L460.89,169.08 L461.66,168.85 L462.43,168.61 L463.19,168.36 L463.95,168.11 L464.71,167.85 L465.47,167.59 L466.22,167.33 L466.97,167.05 L467.72,166.78 L468.47,166.5 L469.21,166.21 L469.95,165.92 L470.69,165.62 L471.43,165.31 L472.16,165 L472.89,164.68 L473.62,164.36 L474.35,164.03 L475.07,163.7 L475.79,163.36 L476.51,163.01 L477.22,162.66 L477.94,162.3 L478.65,161.93 L479.35,161.56 L480.06,161.18 L480.76,160.79 L481.45,160.4 L482.15,160 L482.84,159.59 L483.53,159.18 L484.21,158.75 L484.9,158.33 L485.58,157.89 L486.25,157.45 L486.93,157 L487.59,156.54 L488.26,156.07 L488.92,155.6 L489.58,155.12 L490.24,154.64 L490.89,154.15 L491.54,153.65 L492.19,153.15 L492.83,152.64 L493.47,152.12 L494.1,151.6 L494.74,151.07 L495.36,150.54 L495.99,150 L496.61,149.45 L497.22,148.9 L497.84,148.34 L498.44,147.78 L499.05,147.22 L499.65,146.64 L500.25,146.06 L500.84,145.48 L501.43,144.89 L502.01,144.3 L502.59,143.7 L503.17,143.1 L503.74,142.5 L504.3,141.88 L504.87,141.27 L505.43,140.65 L505.98,140.03 L506.53,139.4 L507.07,138.77 L507.61,138.13 L508.15,137.49 L508.68,136.85 L509.21,136.2 L509.73,135.55 L510.25,134.89 L510.76,134.24 L511.27,133.57 L511.77,132.91 L512.27,132.24 L512.77,131.57 L513.26,130.89 L513.74,130.22 L514.22,129.53 L514.7,128.85 L515.17,128.16 L515.64,127.47 L516.11,126.78 L516.57,126.08 L517.02,125.38 L517.48,124.68 L517.92,123.97 L518.37,123.26 L518.81,122.55 L519.24,121.83 L519.67,121.12 L520.1,120.4 L520.53,119.67 L520.95,118.95 L521.36,118.22 L521.77,117.49 L522.18,116.75 L522.59,116.02 L522.99,115.28 L523.38,114.54 L523.78,113.8 L524.17,113.05 L524.55,112.3 L524.93,111.55 L525.31,110.8 L525.69,110.04 L526.06,109.29 L526.43,108.53 L526.79,107.77 L527.15,107 L527.51,106.24 L527.87,105.47 L528.22,104.7 L528.57,103.93 L528.91,103.16 L529.25,102.38 L529.59,101.61 L529.92,100.83 L530.26,100.05 L530.58,99.27 L530.91,98.48 L531.23,97.7 L531.54,96.91 L531.85,96.13 L532.15,95.34 L532.45,94.55 L532.74,93.76 L533.03,92.97 L533.31,92.17 L533.58,91.38 L533.85,90.59 L534.11,89.79 L534.36,89 L534.6,88.2 L534.83,87.4 L535.06,86.61 L535.28,85.81 L535.49,85.01 L535.69,84.21 L535.88,83.42 L536.05,82.62 L536.22,81.82 L536.38,81.02 L536.53,80.23 L536.67,79.43 L536.79,78.63 L536.91,77.83 L537.01,77.04 L537.1,76.24 L537.17,75.45 L537.24,74.65 L537.29,73.86 L537.33,73.07 L537.35,72.28 L537.36,71.49 L537.35,70.7 L537.33,69.91 L537.3,69.12 L537.25,68.34 L537.19,67.55 L537.11,66.77 L537.01,65.99 L536.9,65.21 L536.77,64.43 L536.62,63.65 L536.46,62.88 L536.29,62.11 L536.09,61.34 L535.89,60.57 L535.67,59.8 L535.43,59.04 L535.18,58.28 L534.92,57.52 L534.64,56.76 L534.35,56.01 L534.05,55.26 L533.74,54.51 L533.41,53.77 L533.07,53.02 L532.71,52.28 L532.35,51.55 L531.97,50.82 L531.59,50.09 L531.19,49.36 L530.78,48.64 L530.36,47.92 L529.93,47.21 L529.49,46.5 L529.04,45.79 L528.58,45.09 L528.11,44.39 L527.63,43.7 L527.14,43.01 L526.65,42.32 L526.15,41.64 L525.63,40.97 L525.11,40.29 L524.59,39.63 L524.05,38.97 L523.51,38.31 L522.96,37.66 L522.41,37.01 L521.85,36.37 L521.28,35.73 L520.71,35.1 L520.13,34.48 L519.55,33.86 L518.96,33.24 L518.37,32.63 L517.77,32.03 L517.17,31.43 L516.56,30.84 L515.95,30.26 L515.34,29.68 L514.72,29.11 L514.1,28.54 L513.48,27.99 L512.86,27.43 L512.23,26.89 L511.6,26.35 L510.97,25.82 L510.34,25.29 L509.71,24.77 L509.07,24.26" fill="none" stroke="#181818" stroke-width="1.1" stroke-linejoin="round" clip-path="url(#cb)"/>
<g fill="#000"><circle cx="338" cy="217.4" r="3.75"/><circle cx="342.6" cy="203.9" r="3.75"/><circle cx="417.6" cy="177.2" r="3.75"/><circle cx="497.6" cy="150.7" r="3.75"/><circle cx="521.4" cy="117.2" r="3.75"/><circle cx="538.1" cy="70.7" r="3.75"/><circle cx="509.5" cy="24" r="3.75"/></g>
<path d="M334.93,215.17 L335.12,214.19 L335.34,213.23 L335.57,212.3 L335.82,211.39 L336.09,210.5 L336.37,209.64 L336.67,208.8 L336.99,207.99 L337.32,207.2 L337.67,206.43 L338.04,205.68 L338.42,204.96 L338.81,204.26 L339.22,203.58 L339.65,202.92 L340.08,202.28 L340.53,201.66 L341,201.06 L341.47,200.48 L341.96,199.92 L342.46,199.38 L342.98,198.86 L343.5,198.35 L344.04,197.87 L344.58,197.4 L345.14,196.95 L345.71,196.52 L346.29,196.1 L346.87,195.7 L347.47,195.32 L348.07,194.95 L348.69,194.6 L349.31,194.27 L349.94,193.94 L350.57,193.64 L351.22,193.34 L351.87,193.06 L352.53,192.8 L353.2,192.54 L353.87,192.3 L354.55,192.07 L355.24,191.85 L355.93,191.64 L356.63,191.45 L357.34,191.26 L358.05,191.08 L358.76,190.91 L359.48,190.75 L360.21,190.6 L360.94,190.46 L361.67,190.32 L362.41,190.19 L363.15,190.07 L363.9,189.96 L364.65,189.85 L365.41,189.74 L366.16,189.64 L366.92,189.55 L367.69,189.46 L368.45,189.37 L369.22,189.29 L369.99,189.21 L370.77,189.13 L371.54,189.05 L372.32,188.98 L373.1,188.9 L373.88,188.83 L374.66,188.76 L375.44,188.69 L376.22,188.62 L377,188.54 L377.78,188.47 L378.57,188.4 L379.35,188.33 L380.14,188.25 L380.92,188.18 L381.71,188.11 L382.5,188.03 L383.29,187.96 L384.07,187.89 L384.86,187.81 L385.65,187.74 L386.44,187.66 L387.23,187.58 L388.02,187.51 L388.81,187.43 L389.6,187.35 L390.39,187.27 L391.18,187.19 L391.97,187.11 L392.76,187.03 L393.55,186.94 L394.34,186.86 L395.13,186.77 L395.92,186.69 L396.72,186.6 L397.51,186.51 L398.3,186.42 L399.09,186.33 L399.88,186.24 L400.67,186.14 L401.46,186.05 L402.24,185.95 L403.03,185.85 L403.82,185.75 L404.61,185.65 L405.4,185.55 L406.18,185.44 L406.97,185.34 L407.75,185.23 L408.54,185.12 L409.32,185.01 L410.11,184.89 L410.89,184.78 L411.67,184.66 L412.45,184.54 L413.23,184.42 L414.01,184.3 L414.79,184.17 L415.57,184.04 L416.34,183.91 L417.12,183.78 L417.89,183.64 L418.67,183.51 L419.44,183.37 L420.21,183.22 L420.98,183.08 L421.75,182.93 L422.52,182.78 L423.28,182.63 L424.05,182.47 L424.81,182.32 L425.57,182.16 L426.34,181.99 L427.09,181.82 L427.85,181.66 L428.61,181.48 L429.36,181.31 L430.12,181.13 L430.87,180.95 L431.62,180.76 L432.36,180.57 L433.11,180.38 L433.85,180.19 L434.6,179.99 L435.34,179.79 L436.08,179.59 L436.81,179.38 L437.55,179.17 L438.28,178.95 L439.01,178.73 L439.74,178.51 L440.47,178.29 L441.19,178.06 L441.91,177.82 L442.63,177.59 L443.35,177.35 L444.07,177.1 L444.78,176.85 L445.49,176.6 L446.2,176.34 L446.91,176.08 L447.61,175.82 L448.31,175.55 L449.01,175.28 L449.7,175 L450.4,174.72 L451.09,174.43 L451.78,174.14 L452.46,173.85 L453.14,173.55 L453.82,173.24 L454.5,172.93 L455.17,172.62 L455.85,172.3 L456.51,171.98 L457.18,171.65 L457.84,171.32 L458.5,170.99 L459.16,170.64 L459.81,170.3 L460.46,169.95 L461.11,169.59 L461.75,169.23 L462.39,168.86 L463.03,168.49 L463.66,168.12 L464.29,167.73 L464.92,167.35 L465.54,166.95 L466.16,166.56 L466.78,166.15 L467.39,165.75 L468,165.33 L468.61,164.91 L469.21,164.49 L469.81,164.06 L470.41,163.62 L471,163.18 L471.58,162.73 L472.17,162.28 L472.75,161.82 L473.32,161.35 L473.9,160.88 L474.46,160.4 L475.03,159.92 L475.59,159.43 L476.14,158.94 L476.7,158.44 L477.25,157.93 L477.79,157.42 L478.33,156.9 L478.87,156.37 L479.4,155.84 L479.93,155.31 L480.45,154.77 L480.97,154.22 L481.49,153.67 L482,153.11 L482.51,152.55 L483.02,151.98 L483.52,151.41 L484.02,150.84 L484.51,150.25 L485,149.67 L485.49,149.08 L485.97,148.48 L486.45,147.88 L486.93,147.28 L487.4,146.67 L487.87,146.05 L488.34,145.44 L488.8,144.81 L489.26,144.19 L489.71,143.56 L490.16,142.93 L490.61,142.29 L491.06,141.65 L491.5,141 L491.94,140.35 L492.37,139.7 L492.8,139.04 L493.23,138.38 L493.65,137.72 L494.08,137.05 L494.49,136.39 L494.91,135.71 L495.32,135.04 L495.73,134.36 L496.13,133.68 L496.54,132.99 L496.93,132.31 L497.33,131.62 L497.72,130.92 L498.11,130.23 L498.5,129.53 L498.88,128.83 L499.26,128.13 L499.64,127.43 L500.01,126.72 L500.38,126.01 L500.75,125.3 L501.12,124.59 L501.48,123.88 L501.84,123.16 L502.2,122.44 L502.55,121.72 L502.9,121 L503.25,120.28 L503.59,119.55 L503.94,118.83 L504.28,118.1 L504.61,117.38 L504.95,116.65 L505.28,115.92 L505.61,115.19 L505.94,114.45 L506.26,113.72 L506.58,112.99 L506.9,112.25 L507.21,111.52 L507.53,110.78 L507.84,110.05 L508.15,109.31 L508.45,108.58 L508.76,107.84 L509.06,107.1 L509.36,106.37 L509.65,105.63 L509.94,104.89 L510.24,104.16 L510.52,103.42 L510.81,102.68 L511.1,101.95 L511.38,101.21 L511.66,100.48 L511.93,99.74 L512.21,99.01 L512.48,98.28 L512.75,97.55 L513.02,96.81 L513.29,96.08 L513.55,95.36 L513.81,94.63 L514.07,93.9 L514.33,93.17 L514.59,92.45 L514.84,91.72 L515.09,91 L515.34,90.28 L515.59,89.56 L515.83,88.84 L516.07,88.11 L516.32,87.39 L516.55,86.68 L516.79,85.96 L517.02,85.24 L517.26,84.52 L517.49,83.8 L517.71,83.08 L517.94,82.37 L518.16,81.65 L518.39,80.93 L518.61,80.22 L518.82,79.5 L519.04,78.79 L519.25,78.07 L519.46,77.35 L519.67,76.64 L519.88,75.92 L520.08,75.2 L520.29,74.49 L520.49,73.77 L520.69,73.05 L520.88,72.33 L521.08,71.62 L521.27,70.9 L521.46,70.18 L521.65,69.46 L521.83,68.74 L522.02,68.02 L522.2,67.3 L522.38,66.57 L522.56,65.85 L522.73,65.13 L522.91,64.4 L523.08,63.68 L523.25,62.95 L523.41,62.23 L523.58,61.5 L523.74,60.77 L523.9,60.04 L524.06,59.31 L524.22,58.57 L524.38,57.84 L524.53,57.1 L524.68,56.37 L524.83,55.63 L524.98,54.89 L525.12,54.15 L525.26,53.41 L525.4,52.66 L525.54,51.92 L525.68,51.17 L525.81,50.42 L525.95,49.67 L526.08,48.92 L526.21,48.17 L526.33,47.41 L526.46,46.65 L526.58,45.89 L526.7,45.13 L526.82,44.37 L526.93,43.6 L527.05,42.84 L527.16,42.07 L527.27,41.29 L527.38,40.52 L527.48,39.74 L527.59,38.96 L527.69,38.18 L527.79,37.4 L527.89,36.61 L527.99,35.82 L528.08,35.03 L528.17,34.24 L528.26,33.44 L528.35,32.64 L528.44,31.84 L528.52,31.03 L528.6,30.22 L528.68,29.41 L528.76,28.6 L528.84,27.78 L528.91,26.96 L528.98,26.14 L529.05,25.31 L529.12,24.49 L529.19,23.65" fill="none" stroke="#5c5cff" stroke-width="1.05" stroke-linejoin="round" clip-path="url(#cb)"/>
<line x1="353.2" y1="64" x2="403.2" y2="64" stroke="#cdcdcd" stroke-width="1.0" stroke-dasharray="13 3 3 2.5 3 3.3"/>
<line x1="353.2" y1="77.6" x2="403.2" y2="77.6" stroke="#404040" stroke-width="1.05"/>
<circle cx="378.3" cy="77.6" r="3.65" fill="#000"/>
<line x1="353.2" y1="90.9" x2="403.2" y2="90.9" stroke="#9c9cf6" stroke-width="1.4"/>
<text x="412.3" y="67.6" font-family='"Liberation Serif", "Times New Roman", serif' font-weight="bold" font-size="11" fill="#111" textLength="26.3" lengthAdjust="spacingAndGlyphs">FDS6</text>
<text x="412.3" y="81.2" font-family='"Liberation Serif", "Times New Roman", serif' font-weight="bold" font-size="11" fill="#111" textLength="21.8" lengthAdjust="spacingAndGlyphs">EXP</text>
<text x="412.3" y="94.5" font-family='"Liberation Serif", "Times New Roman", serif' font-weight="bold" font-size="11" fill="#111" textLength="19.1" lengthAdjust="spacingAndGlyphs">ISIS</text>
<g stroke="#000" fill="none" stroke-linecap="butt"><path d="M316.44,223.8 v-3 M316.44,10.7 v3" stroke-width="0.85"/><path d="M328.18,223.8 v-5.8 M328.18,10.7 v5.8" stroke-width="1.35"/><path d="M339.92,223.8 v-3 M339.92,10.7 v3" stroke-width="0.85"/><path d="M351.66,223.8 v-3 M351.66,10.7 v3" stroke-width="0.85"/><path d="M363.4,223.8 v-3 M363.4,10.7 v3" stroke-width="0.85"/><path d="M375.14,223.8 v-3 M375.14,10.7 v3" stroke-width="0.85"/><path d="M386.88,223.8 v-5.8 M386.88,10.7 v5.8" stroke-width="1.35"/><path d="M398.62,223.8 v-3 M398.62,10.7 v3" stroke-width="0.85"/><path d="M410.36,223.8 v-3 M410.36,10.7 v3" stroke-width="0.85"/><path d="M422.1,223.8 v-3 M422.1,10.7 v3" stroke-width="0.85"/><path d="M433.84,223.8 v-3 M433.84,10.7 v3" stroke-width="0.85"/><path d="M445.58,223.8 v-5.8 M445.58,10.7 v5.8" stroke-width="1.35"/><path d="M457.32,223.8 v-3 M457.32,10.7 v3" stroke-width="0.85"/><path d="M469.06,223.8 v-3 M469.06,10.7 v3" stroke-width="0.85"/><path d="M480.8,223.8 v-3 M480.8,10.7 v3" stroke-width="0.85"/><path d="M492.54,223.8 v-3 M492.54,10.7 v3" stroke-width="0.85"/><path d="M504.28,223.8 v-5.8 M504.28,10.7 v5.8" stroke-width="1.35"/><path d="M516.02,223.8 v-3 M516.02,10.7 v3" stroke-width="0.85"/><path d="M527.76,223.8 v-3 M527.76,10.7 v3" stroke-width="0.85"/><path d="M304.7,217.14 h3 M539.5,217.14 h-3" stroke-width="0.85"/><path d="M304.7,210.48 h5.8 M539.5,210.48 h-5.8" stroke-width="1.35"/><path d="M304.7,203.82 h3 M539.5,203.82 h-3" stroke-width="0.85"/><path d="M304.7,197.16 h3 M539.5,197.16 h-3" stroke-width="0.85"/><path d="M304.7,190.5 h3 M539.5,190.5 h-3" stroke-width="0.85"/><path d="M304.7,183.84 h3 M539.5,183.84 h-3" stroke-width="0.85"/><path d="M304.7,177.18 h5.8 M539.5,177.18 h-5.8" stroke-width="1.35"/><path d="M304.7,170.53 h3 M539.5,170.53 h-3" stroke-width="0.85"/><path d="M304.7,163.87 h3 M539.5,163.87 h-3" stroke-width="0.85"/><path d="M304.7,157.21 h3 M539.5,157.21 h-3" stroke-width="0.85"/><path d="M304.7,150.55 h3 M539.5,150.55 h-3" stroke-width="0.85"/><path d="M304.7,143.89 h5.8 M539.5,143.89 h-5.8" stroke-width="1.35"/><path d="M304.7,137.23 h3 M539.5,137.23 h-3" stroke-width="0.85"/><path d="M304.7,130.57 h3 M539.5,130.57 h-3" stroke-width="0.85"/><path d="M304.7,123.91 h3 M539.5,123.91 h-3" stroke-width="0.85"/><path d="M304.7,117.25 h3 M539.5,117.25 h-3" stroke-width="0.85"/><path d="M304.7,110.59 h5.8 M539.5,110.59 h-5.8" stroke-width="1.35"/><path d="M304.7,103.93 h3 M539.5,103.93 h-3" stroke-width="0.85"/><path d="M304.7,97.27 h3 M539.5,97.27 h-3" stroke-width="0.85"/><path d="M304.7,90.61 h3 M539.5,90.61 h-3" stroke-width="0.85"/><path d="M304.7,83.95 h3 M539.5,83.95 h-3" stroke-width="0.85"/><path d="M304.7,77.29 h5.8 M539.5,77.29 h-5.8" stroke-width="1.35"/><path d="M304.7,70.63 h3 M539.5,70.63 h-3" stroke-width="0.85"/><path d="M304.7,63.97 h3 M539.5,63.97 h-3" stroke-width="0.85"/><path d="M304.7,57.32 h3 M539.5,57.32 h-3" stroke-width="0.85"/><path d="M304.7,50.66 h3 M539.5,50.66 h-3" stroke-width="0.85"/><path d="M304.7,44 h5.8 M539.5,44 h-5.8" stroke-width="1.35"/><path d="M304.7,37.34 h3 M539.5,37.34 h-3" stroke-width="0.85"/><path d="M304.7,30.68 h3 M539.5,30.68 h-3" stroke-width="0.85"/><path d="M304.7,24.02 h3 M539.5,24.02 h-3" stroke-width="0.85"/><path d="M304.7,17.36 h3 M539.5,17.36 h-3" stroke-width="0.85"/></g>
<rect x="304.7" y="10.7" width="234.8" height="213.1" fill="none" stroke="#000" stroke-width="1.3"/>
<g font-family='"Liberation Sans", Arial, sans-serif' font-size="8.4" fill="#1e1e1e" text-anchor="middle"><text x="328.18" y="232.6">300</text><text x="386.88" y="232.6">350</text><text x="445.58" y="232.6">400</text><text x="504.28" y="232.6">450</text></g>
<g font-family='"Liberation Sans", Arial, sans-serif' font-size="8.4" fill="#1e1e1e" text-anchor="end"><text x="301.2" y="213.48">0.1</text><text x="301.2" y="180.18">0.15</text><text x="301.2" y="146.89">0.2</text><text x="301.2" y="113.59">0.25</text><text x="301.2" y="80.29">0.3</text><text x="301.2" y="47">0.35</text><text x="301.2" y="13.7">0.4</text></g>
<text x="378.2" y="241.7" font-family='"Liberation Serif", "Times New Roman", serif' font-weight="bold" font-size="9.2" fill="#111" textLength="87.3" lengthAdjust="spacingAndGlyphs">TEMPERATURE (K)</text>
<text transform="translate(282.5,158.9) rotate(-90)" font-family='"Liberation Serif", "Times New Roman", serif' font-weight="bold" font-size="9.2" fill="#111" textLength="83.7" lengthAdjust="spacingAndGlyphs">DOOR HEIGHT (m)</text>
<text x="424.1" y="259.2" font-family='"Liberation Serif", "Times New Roman", serif' font-weight="bold" font-size="12.5" fill="#111" text-anchor="middle">(b)</text>
<path d="M47.13,466.73 L46.9,465.76 L46.68,464.79 L46.49,463.84 L46.32,462.89 L46.18,461.95 L46.05,461.02 L45.95,460.1 L45.86,459.19 L45.8,458.29 L45.76,457.39 L45.74,456.51 L45.74,455.63 L45.75,454.76 L45.79,453.9 L45.85,453.05 L45.92,452.21 L46.02,451.38 L46.13,450.56 L46.26,449.75 L46.41,448.95 L46.58,448.16 L46.76,447.38 L46.96,446.61 L47.18,445.84 L47.42,445.09 L47.67,444.35 L47.94,443.62 L48.22,442.9 L48.53,442.19 L48.84,441.49 L49.17,440.8 L49.52,440.12 L49.88,439.45 L50.26,438.79 L50.65,438.15 L51.06,437.51 L51.48,436.89 L51.91,436.27 L52.36,435.67 L52.82,435.08 L53.29,434.5 L53.78,433.93 L54.27,433.37 L54.79,432.83 L55.31,432.29 L55.84,431.77 L56.39,431.26 L56.95,430.76 L57.52,430.27 L58.1,429.8 L58.69,429.33 L59.28,428.87 L59.89,428.43 L60.51,427.99 L61.14,427.57 L61.78,427.16 L62.43,426.75 L63.08,426.35 L63.74,425.97 L64.41,425.59 L65.09,425.22 L65.78,424.86 L66.47,424.51 L67.17,424.17 L67.87,423.84 L68.58,423.51 L69.3,423.19 L70.02,422.88 L70.75,422.58 L71.48,422.28 L72.22,422 L72.96,421.71 L73.7,421.44 L74.45,421.17 L75.21,420.91 L75.96,420.65 L76.72,420.4 L77.48,420.16 L78.24,419.92 L79.01,419.69 L79.78,419.46 L80.54,419.24 L81.32,419.02 L82.09,418.81 L82.86,418.6 L83.64,418.4 L84.42,418.2 L85.19,418.01 L85.98,417.82 L86.76,417.64 L87.54,417.46 L88.33,417.28 L89.11,417.11 L89.9,416.94 L90.69,416.78 L91.48,416.62 L92.27,416.47 L93.07,416.32 L93.86,416.17 L94.66,416.03 L95.46,415.89 L96.25,415.75 L97.05,415.62 L97.85,415.49 L98.66,415.36 L99.46,415.24 L100.26,415.11 L101.07,415 L101.87,414.88 L102.68,414.77 L103.49,414.66 L104.29,414.55 L105.1,414.45 L105.91,414.34 L106.72,414.24 L107.53,414.15 L108.35,414.05 L109.16,413.96 L109.97,413.86 L110.79,413.77 L111.6,413.69 L112.41,413.6 L113.23,413.51 L114.04,413.43 L114.86,413.35 L115.68,413.27 L116.49,413.19 L117.31,413.11 L118.13,413.03 L118.94,412.95 L119.76,412.88 L120.58,412.8 L121.4,412.73 L122.22,412.65 L123.03,412.58 L123.85,412.51 L124.67,412.43 L125.49,412.36 L126.31,412.29 L127.12,412.21 L127.94,412.14 L128.76,412.07 L129.58,412 L130.39,411.92 L131.21,411.85 L132.03,411.78 L132.84,411.7 L133.66,411.62 L134.47,411.55 L135.29,411.47 L136.1,411.39 L136.92,411.31 L137.73,411.23 L138.54,411.15 L139.36,411.07 L140.17,410.99 L140.98,410.9 L141.79,410.81 L142.6,410.72 L143.41,410.63 L144.22,410.54 L145.02,410.45 L145.83,410.35 L146.64,410.25 L147.44,410.15 L148.24,410.05 L149.05,409.94 L149.85,409.83 L150.65,409.72 L151.45,409.61 L152.25,409.49 L153.04,409.38 L153.84,409.25 L154.63,409.13 L155.43,409 L156.22,408.87 L157.01,408.74 L157.8,408.6 L158.59,408.46 L159.37,408.31 L160.16,408.16 L160.94,408.01 L161.73,407.86 L162.51,407.7 L163.28,407.53 L164.06,407.37 L164.84,407.19 L165.61,407.02 L166.38,406.84 L167.15,406.65 L167.92,406.46 L168.69,406.27 L169.46,406.07 L170.22,405.87 L170.98,405.66 L171.74,405.44 L172.5,405.23 L173.25,405 L174,404.77 L174.76,404.54 L175.5,404.3 L176.25,404.05 L177,403.8 L177.74,403.55 L178.48,403.28 L179.22,403.02 L179.95,402.74 L180.68,402.46 L181.42,402.18 L182.14,401.88 L182.87,401.58 L183.59,401.28 L184.31,400.97 L185.03,400.65 L185.75,400.32 L186.46,399.99 L187.17,399.65 L187.88,399.31 L188.58,398.96 L189.29,398.6 L189.98,398.23 L190.68,397.86 L191.37,397.49 L192.06,397.1 L192.75,396.71 L193.44,396.31 L194.12,395.91 L194.79,395.5 L195.47,395.09 L196.14,394.67 L196.81,394.24 L197.47,393.81 L198.13,393.37 L198.79,392.92 L199.44,392.47 L200.09,392.01 L200.74,391.55 L201.38,391.08 L202.02,390.61 L202.66,390.13 L203.29,389.64 L203.91,389.15 L204.54,388.65 L205.16,388.15 L205.77,387.65 L206.38,387.13 L206.99,386.61 L207.59,386.09 L208.19,385.56 L208.78,385.03 L209.37,384.49 L209.96,383.95 L210.54,383.4 L211.11,382.84 L211.69,382.29 L212.25,381.72 L212.81,381.15 L213.37,380.58 L213.92,380 L214.47,379.42 L215.01,378.83 L215.55,378.24 L216.08,377.64 L216.61,377.04 L217.14,376.44 L217.65,375.83 L218.17,375.21 L218.67,374.59 L219.17,373.97 L219.67,373.34 L220.16,372.71 L220.65,372.08 L221.13,371.44 L221.6,370.79 L222.07,370.14 L222.53,369.49 L222.99,368.84 L223.44,368.18 L223.89,367.51 L224.33,366.85 L224.76,366.18 L225.19,365.5 L225.62,364.82 L226.03,364.14 L226.44,363.45 L226.85,362.77 L227.24,362.07 L227.64,361.38 L228.02,360.68 L228.4,359.98 L228.77,359.27 L229.14,358.56 L229.5,357.85 L229.85,357.13 L230.2,356.41 L230.54,355.69 L230.87,354.97 L231.2,354.24 L231.52,353.51 L231.83,352.78 L232.14,352.04 L232.43,351.3 L232.73,350.56 L233.01,349.82 L233.29,349.07 L233.56,348.32 L233.83,347.57 L234.09,346.82 L234.34,346.06 L234.59,345.3 L234.83,344.54 L235.06,343.78 L235.29,343.01 L235.52,342.24 L235.74,341.47 L235.95,340.7 L236.16,339.93 L236.37,339.15 L236.57,338.38 L236.76,337.6 L236.95,336.82 L237.14,336.03 L237.32,335.25 L237.5,334.47 L237.67,333.68 L237.84,332.89 L238.01,332.1 L238.17,331.31 L238.33,330.52 L238.49,329.73 L238.65,328.93 L238.8,328.14 L238.94,327.34 L239.09,326.55 L239.23,325.75 L239.37,324.95 L239.51,324.15 L239.65,323.35 L239.78,322.55 L239.91,321.75 L240.04,320.95 L240.17,320.14 L240.3,319.34 L240.43,318.54 L240.55,317.74 L240.67,316.93 L240.8,316.13 L240.92,315.33 L241.04,314.52 L241.16,313.72 L241.28,312.91 L241.41,312.11 L241.53,311.31 L241.65,310.5 L241.77,309.7 L241.89,308.9 L242.01,308.1 L242.13,307.3 L242.26,306.5 L242.38,305.69 L242.51,304.89 L242.63,304.1 L242.76,303.3 L242.89,302.5 L243.02,301.7 L243.15,300.91 L243.29,300.11 L243.42,299.32 L243.56,298.53 L243.7,297.74 L243.85,296.95 L243.99,296.16 L244.14,295.37 L244.29,294.58 L244.45,293.8 L244.6,293.02 L244.76,292.23 L244.93,291.45 L245.1,290.68 L245.27,289.9 L245.44,289.12 L245.62,288.35 L245.8,287.58 L245.99,286.81 L246.18,286.05 L246.38,285.28 L246.58,284.52 L246.79,283.76 L247,283 L247.21,282.24 L247.43,281.49 L247.66,280.74 L247.89,279.99 L248.13,279.25 L248.37,278.5 L248.62,277.76 L248.87,277.02 L249.13,276.29 L249.4,275.56" fill="none" stroke="#b4b4b4" stroke-width="1.0" stroke-linejoin="round" stroke-dasharray="12.5 3.6 2 3.6 2 3.6" clip-path="url(#cc)"/>
<path d="M48.35,473.31 L48.18,472.26 L48.03,471.22 L47.9,470.2 L47.78,469.19 L47.69,468.19 L47.62,467.2 L47.57,466.23 L47.53,465.27 L47.52,464.32 L47.52,463.39 L47.54,462.47 L47.59,461.56 L47.65,460.66 L47.72,459.78 L47.82,458.91 L47.93,458.05 L48.06,457.2 L48.21,456.37 L48.37,455.54 L48.56,454.73 L48.75,453.94 L48.97,453.15 L49.2,452.38 L49.44,451.62 L49.7,450.87 L49.98,450.13 L50.27,449.4 L50.57,448.69 L50.89,447.99 L51.23,447.3 L51.58,446.62 L51.94,445.95 L52.31,445.29 L52.7,444.65 L53.11,444.01 L53.52,443.39 L53.95,442.78 L54.39,442.18 L54.84,441.59 L55.31,441.01 L55.79,440.44 L56.27,439.89 L56.77,439.34 L57.29,438.81 L57.81,438.28 L58.34,437.77 L58.88,437.27 L59.44,436.77 L60,436.29 L60.57,435.82 L61.16,435.35 L61.75,434.9 L62.35,434.46 L62.96,434.02 L63.58,433.6 L64.21,433.18 L64.85,432.78 L65.49,432.38 L66.15,431.99 L66.81,431.61 L67.48,431.24 L68.15,430.88 L68.84,430.52 L69.53,430.18 L70.23,429.84 L70.93,429.51 L71.64,429.18 L72.36,428.87 L73.08,428.56 L73.81,428.26 L74.54,427.97 L75.28,427.68 L76.03,427.4 L76.78,427.13 L77.53,426.87 L78.29,426.61 L79.05,426.36 L79.82,426.11 L80.59,425.87 L81.37,425.64 L82.15,425.41 L82.93,425.19 L83.72,424.97 L84.51,424.76 L85.3,424.55 L86.09,424.35 L86.89,424.16 L87.69,423.97 L88.49,423.78 L89.29,423.6 L90.1,423.42 L90.9,423.25 L91.71,423.08 L92.52,422.92 L93.33,422.76 L94.13,422.61 L94.94,422.45 L95.75,422.31 L96.57,422.16 L97.38,422.02 L98.19,421.89 L99,421.75 L99.81,421.62 L100.63,421.49 L101.44,421.37 L102.25,421.25 L103.07,421.13 L103.88,421.02 L104.7,420.9 L105.51,420.79 L106.33,420.69 L107.15,420.58 L107.96,420.48 L108.78,420.38 L109.6,420.28 L110.41,420.19 L111.23,420.09 L112.05,420 L112.86,419.91 L113.68,419.82 L114.5,419.74 L115.32,419.65 L116.13,419.57 L116.95,419.49 L117.77,419.4 L118.59,419.33 L119.41,419.25 L120.22,419.17 L121.04,419.09 L121.86,419.02 L122.68,418.94 L123.49,418.87 L124.31,418.8 L125.13,418.72 L125.94,418.65 L126.76,418.58 L127.58,418.51 L128.39,418.44 L129.21,418.36 L130.02,418.29 L130.84,418.22 L131.65,418.15 L132.47,418.08 L133.28,418 L134.09,417.93 L134.91,417.86 L135.72,417.78 L136.53,417.71 L137.34,417.63 L138.15,417.56 L138.96,417.48 L139.77,417.4 L140.58,417.32 L141.39,417.24 L142.2,417.16 L143.01,417.07 L143.81,416.99 L144.62,416.9 L145.43,416.81 L146.23,416.72 L147.04,416.62 L147.84,416.53 L148.64,416.43 L149.44,416.33 L150.24,416.23 L151.04,416.13 L151.84,416.02 L152.64,415.91 L153.44,415.8 L154.23,415.69 L155.03,415.57 L155.82,415.45 L156.62,415.33 L157.41,415.2 L158.2,415.07 L158.99,414.94 L159.78,414.8 L160.57,414.67 L161.35,414.52 L162.14,414.38 L162.92,414.23 L163.71,414.07 L164.49,413.91 L165.27,413.75 L166.05,413.59 L166.83,413.42 L167.61,413.24 L168.38,413.06 L169.16,412.88 L169.93,412.69 L170.7,412.5 L171.47,412.3 L172.24,412.1 L173.01,411.9 L173.77,411.69 L174.54,411.47 L175.3,411.25 L176.06,411.02 L176.82,410.79 L177.58,410.55 L178.34,410.31 L179.09,410.06 L179.85,409.8 L180.6,409.54 L181.35,409.28 L182.1,409.01 L182.84,408.73 L183.59,408.44 L184.33,408.15 L185.07,407.86 L185.81,407.55 L186.55,407.24 L187.29,406.93 L188.02,406.6 L188.76,406.27 L189.49,405.94 L190.21,405.59 L190.94,405.24 L191.66,404.89 L192.39,404.52 L193.11,404.16 L193.82,403.78 L194.54,403.4 L195.25,403.01 L195.96,402.61 L196.67,402.21 L197.37,401.8 L198.08,401.39 L198.77,400.97 L199.47,400.54 L200.16,400.11 L200.85,399.67 L201.54,399.23 L202.22,398.78 L202.91,398.32 L203.58,397.86 L204.26,397.39 L204.93,396.92 L205.59,396.44 L206.26,395.95 L206.92,395.46 L207.57,394.96 L208.22,394.46 L208.87,393.96 L209.52,393.44 L210.16,392.93 L210.79,392.4 L211.42,391.88 L212.05,391.34 L212.67,390.8 L213.29,390.26 L213.91,389.71 L214.52,389.16 L215.12,388.6 L215.72,388.04 L216.32,387.47 L216.91,386.9 L217.5,386.32 L218.08,385.74 L218.65,385.15 L219.22,384.56 L219.79,383.96 L220.35,383.36 L220.91,382.76 L221.46,382.15 L222,381.53 L222.54,380.91 L223.07,380.29 L223.6,379.67 L224.12,379.04 L224.64,378.4 L225.15,377.76 L225.65,377.12 L226.15,376.47 L226.64,375.82 L227.13,375.17 L227.61,374.51 L228.08,373.85 L228.55,373.18 L229.01,372.51 L229.46,371.84 L229.91,371.16 L230.35,370.48 L230.79,369.8 L231.22,369.11 L231.64,368.42 L232.05,367.73 L232.46,367.03 L232.86,366.33 L233.25,365.62 L233.63,364.92 L234.01,364.21 L234.38,363.5 L234.75,362.78 L235.1,362.06 L235.45,361.34 L235.79,360.62 L236.13,359.89 L236.45,359.16 L236.77,358.43 L237.08,357.69 L237.38,356.95 L237.67,356.21 L237.96,355.47 L238.23,354.72 L238.5,353.98 L238.76,353.23 L239.02,352.48 L239.26,351.72 L239.49,350.96 L239.72,350.21 L239.94,349.44 L240.15,348.68 L240.35,347.92 L240.54,347.15 L240.72,346.38 L240.89,345.61 L241.06,344.84 L241.21,344.06 L241.36,343.29 L241.5,342.51 L241.62,341.73 L241.74,340.95 L241.85,340.17 L241.95,339.38 L242.04,338.6 L242.12,337.81 L242.19,337.03 L242.26,336.24 L242.31,335.45 L242.36,334.66 L242.39,333.87 L242.42,333.07 L242.44,332.28 L242.45,331.49 L242.45,330.69 L242.45,329.9 L242.43,329.1 L242.41,328.3 L242.38,327.51 L242.34,326.71 L242.29,325.91 L242.23,325.12 L242.17,324.32 L242.09,323.52 L242.01,322.72 L241.92,321.93 L241.83,321.13 L241.72,320.33 L241.61,319.53 L241.49,318.74 L241.36,317.94 L241.22,317.14 L241.08,316.35 L240.93,315.55 L240.77,314.76 L240.6,313.97 L240.43,313.17 L240.25,312.38 L240.06,311.59 L239.86,310.8 L239.66,310.01 L239.45,309.23 L239.23,308.44 L239.01,307.65 L238.78,306.87 L238.54,306.09 L238.29,305.31 L238.04,304.53 L237.78,303.75 L237.52,302.97 L237.25,302.2 L236.97,301.43 L236.68,300.66 L236.39,299.89 L236.09,299.12 L235.78,298.35 L235.47,297.59 L235.16,296.83 L234.83,296.07 L234.5,295.32 L234.16,294.56 L233.82,293.81 L233.47,293.06 L233.12,292.32 L232.76,291.57 L232.39,290.83 L232.02,290.09 L231.64,289.36 L231.26,288.63 L230.87,287.9 L230.47,287.17 L230.07,286.45 L229.66,285.73 L229.25,285.01 L228.83,284.3 L228.41,283.59 L227.98,282.88 L227.55,282.18" fill="none" stroke="#1c1c1c" stroke-width="1.1" stroke-linejoin="round" clip-path="url(#cc)"/>
<g fill="#000"><circle cx="48.3" cy="472.2" r="3.75"/><circle cx="52" cy="445.3" r="3.75"/><circle cx="174.8" cy="411.5" r="3.75"/><circle cx="224.7" cy="377.5" r="3.75"/><circle cx="242.2" cy="343.1" r="3.75"/><circle cx="239" cy="309.3" r="3.75"/><circle cx="228.2" cy="282.1" r="3.75"/></g>
<path d="M38.16,478.83 L38.71,478.24 L39.26,477.65 L39.81,477.04 L40.35,476.44 L40.89,475.82 L41.43,475.2 L41.97,474.57 L42.51,473.94 L43.05,473.31 L43.59,472.67 L44.12,472.03 L44.66,471.39 L45.2,470.74 L45.73,470.09 L46.27,469.44 L46.81,468.79 L47.35,468.14 L47.89,467.49 L48.43,466.83 L48.97,466.18 L49.52,465.53 L50.06,464.88 L50.61,464.23 L51.16,463.58 L51.72,462.93 L52.27,462.29 L52.83,461.65 L53.4,461.02 L53.96,460.38 L54.53,459.76 L55.11,459.13 L55.68,458.52 L56.26,457.9 L56.85,457.3 L57.44,456.7 L58.04,456.1 L58.64,455.52 L59.24,454.94 L59.85,454.37 L60.47,453.8 L61.09,453.25 L61.72,452.7 L62.36,452.17 L63,451.64 L63.65,451.13 L64.3,450.62 L64.96,450.13 L65.63,449.65 L66.31,449.18 L66.99,448.72 L67.68,448.27 L68.38,447.83 L69.08,447.4 L69.79,446.98 L70.5,446.57 L71.22,446.17 L71.95,445.78 L72.68,445.4 L73.42,445.02 L74.16,444.66 L74.9,444.31 L75.65,443.96 L76.41,443.62 L77.17,443.29 L77.93,442.97 L78.7,442.65 L79.47,442.35 L80.24,442.05 L81.02,441.75 L81.8,441.47 L82.58,441.19 L83.37,440.92 L84.16,440.65 L84.95,440.39 L85.75,440.14 L86.54,439.89 L87.34,439.65 L88.14,439.41 L88.94,439.18 L89.75,438.95 L90.55,438.73 L91.36,438.51 L92.17,438.3 L92.97,438.09 L93.78,437.89 L94.59,437.69 L95.4,437.49 L96.21,437.3 L97.02,437.11 L97.83,436.93 L98.64,436.74 L99.45,436.57 L100.27,436.39 L101.08,436.22 L101.89,436.05 L102.7,435.89 L103.52,435.72 L104.33,435.57 L105.15,435.41 L105.96,435.26 L106.78,435.1 L107.59,434.96 L108.41,434.81 L109.22,434.67 L110.04,434.53 L110.86,434.39 L111.67,434.25 L112.49,434.12 L113.31,433.99 L114.13,433.86 L114.95,433.73 L115.76,433.6 L116.58,433.48 L117.4,433.36 L118.22,433.24 L119.04,433.12 L119.86,433 L120.68,432.88 L121.5,432.77 L122.32,432.65 L123.14,432.54 L123.97,432.43 L124.79,432.32 L125.61,432.21 L126.43,432.1 L127.25,431.99 L128.08,431.88 L128.9,431.78 L129.72,431.67 L130.54,431.56 L131.37,431.46 L132.19,431.35 L133.01,431.25 L133.84,431.14 L134.66,431.03 L135.48,430.93 L136.31,430.82 L137.13,430.72 L137.96,430.61 L138.78,430.5 L139.61,430.4 L140.43,430.29 L141.26,430.18 L142.08,430.07 L142.91,429.96 L143.73,429.85 L144.56,429.74 L145.38,429.63 L146.21,429.51 L147.03,429.4 L147.86,429.28 L148.68,429.16 L149.51,429.04 L150.33,428.92 L151.16,428.8 L151.98,428.67 L152.81,428.55 L153.64,428.42 L154.46,428.29 L155.29,428.16 L156.11,428.03 L156.94,427.89 L157.76,427.75 L158.59,427.61 L159.42,427.47 L160.24,427.32 L161.07,427.17 L161.89,427.02 L162.72,426.87 L163.54,426.71 L164.37,426.56 L165.19,426.39 L166.02,426.23 L166.84,426.06 L167.67,425.89 L168.49,425.71 L169.32,425.54 L170.14,425.35 L170.97,425.17 L171.79,424.98 L172.61,424.79 L173.44,424.59 L174.26,424.39 L175.08,424.19 L175.9,423.98 L176.72,423.77 L177.54,423.56 L178.36,423.34 L179.18,423.11 L180,422.89 L180.81,422.66 L181.63,422.42 L182.44,422.18 L183.25,421.94 L184.06,421.69 L184.87,421.44 L185.67,421.18 L186.48,420.92 L187.28,420.65 L188.08,420.38 L188.88,420.11 L189.67,419.83 L190.47,419.54 L191.26,419.25 L192.05,418.96 L192.83,418.66 L193.62,418.36 L194.4,418.05 L195.18,417.74 L195.96,417.42 L196.73,417.09 L197.5,416.76 L198.27,416.43 L199.03,416.09 L199.79,415.75 L200.55,415.4 L201.3,415.04 L202.05,414.68 L202.8,414.31 L203.54,413.94 L204.28,413.56 L205.02,413.18 L205.75,412.79 L206.47,412.39 L207.2,411.99 L207.92,411.59 L208.63,411.17 L209.34,410.76 L210.05,410.33 L210.75,409.9 L211.45,409.46 L212.14,409.02 L212.83,408.57 L213.51,408.11 L214.18,407.65 L214.85,407.18 L215.52,406.7 L216.17,406.21 L216.82,405.72 L217.46,405.22 L218.1,404.71 L218.72,404.19 L219.34,403.66 L219.95,403.12 L220.55,402.57 L221.14,402.02 L221.73,401.45 L222.3,400.88 L222.86,400.29 L223.41,399.7 L223.95,399.09 L224.49,398.47 L225.01,397.85 L225.52,397.21 L226.02,396.56 L226.51,395.91 L226.98,395.24 L227.45,394.57 L227.91,393.89 L228.36,393.2 L228.8,392.5 L229.23,391.8 L229.66,391.09 L230.07,390.37 L230.47,389.65 L230.86,388.92 L231.25,388.18 L231.62,387.44 L231.99,386.69 L232.35,385.94 L232.7,385.19 L233.04,384.42 L233.37,383.66 L233.7,382.89 L234.01,382.12 L234.32,381.35 L234.62,380.57 L234.92,379.79 L235.2,379 L235.48,378.21 L235.76,377.42 L236.02,376.63 L236.28,375.84 L236.54,375.04 L236.79,374.24 L237.03,373.43 L237.27,372.63 L237.5,371.82 L237.73,371.01 L237.95,370.2 L238.17,369.39 L238.39,368.58 L238.6,367.76 L238.81,366.94 L239.01,366.13 L239.22,365.31 L239.41,364.49 L239.61,363.67 L239.81,362.84 L240,362.02 L240.19,361.2 L240.38,360.38 L240.56,359.55 L240.75,358.73 L240.94,357.9 L241.12,357.08 L241.3,356.25 L241.49,355.43 L241.67,354.61 L241.86,353.78 L242.04,352.96 L242.23,352.14 L242.41,351.32 L242.6,350.5 L242.79,349.68 L242.98,348.86 L243.18,348.05 L243.37,347.23 L243.57,346.42 L243.77,345.6 L243.97,344.79 L244.17,343.98 L244.37,343.17 L244.57,342.36 L244.78,341.55 L244.99,340.74 L245.2,339.94 L245.41,339.13 L245.62,338.32 L245.83,337.52 L246.05,336.72 L246.26,335.91 L246.48,335.11 L246.69,334.31 L246.91,333.51 L247.13,332.71 L247.35,331.91 L247.57,331.11 L247.8,330.31 L248.02,329.51 L248.24,328.72 L248.47,327.92 L248.69,327.12 L248.92,326.33 L249.15,325.53 L249.38,324.73 L249.6,323.94 L249.83,323.14 L250.06,322.35 L250.29,321.55 L250.52,320.76 L250.75,319.96 L250.99,319.17 L251.22,318.37 L251.45,317.58 L251.68,316.79 L251.91,315.99 L252.15,315.2 L252.38,314.4 L252.61,313.61 L252.84,312.81 L253.08,312.02 L253.31,311.22 L253.54,310.43 L253.77,309.63 L254.01,308.84 L254.24,308.04 L254.47,307.24 L254.7,306.45 L254.93,305.65 L255.16,304.85 L255.39,304.05 L255.63,303.26 L255.85,302.46 L256.08,301.66 L256.31,300.86 L256.54,300.06 L256.77,299.25 L257,298.45 L257.22,297.65 L257.45,296.85 L257.67,296.04 L257.9,295.24 L258.12,294.43 L258.34,293.62 L258.56,292.82 L258.78,292.01 L259,291.2 L259.22,290.39 L259.44,289.58 L259.65,288.77 L259.87,287.95 L260.08,287.14 L260.29,286.32 L260.5,285.51 L260.71,284.69 L260.92,283.87 L261.13,283.05 L261.33,282.23" fill="none" stroke="#5c5cff" stroke-width="1.05" stroke-linejoin="round" clip-path="url(#cc)"/>
<line x1="63.2" y1="323.8" x2="112.3" y2="323.8" stroke="#cdcdcd" stroke-width="1.0" stroke-dasharray="13 2.7 1.2 4.8 1.2 3.8"/>
<line x1="63.2" y1="337.3" x2="112.3" y2="337.3" stroke="#404040" stroke-width="1.05"/>
<circle cx="87.7" cy="337.3" r="3.65" fill="#000"/>
<line x1="63.2" y1="350.2" x2="112.3" y2="350.2" stroke="#9a9aff" stroke-width="1.1"/>
<text x="120.6" y="327.4" font-family='"Liberation Sans", Arial, sans-serif' font-weight="bold" font-size="11.3" fill="#111">FDS6</text>
<text x="120.6" y="340.9" font-family='"Liberation Sans", Arial, sans-serif' font-weight="bold" font-size="11.3" fill="#111">EXP</text>
<text x="120.6" y="353.8" font-family='"Liberation Sans", Arial, sans-serif' font-weight="bold" font-size="11.3" fill="#111">ISIS</text>
<g stroke="#000" fill="none" stroke-linecap="butt"><path d="M37.69,479.3 v-3 M37.69,268.6 v3" stroke-width="0.85"/><path d="M45.86,479.3 v-3 M45.86,268.6 v3" stroke-width="0.85"/><path d="M54.03,479.3 v-5.8 M54.03,268.6 v5.8" stroke-width="1.35"/><path d="M62.2,479.3 v-3 M62.2,268.6 v3" stroke-width="0.85"/><path d="M70.37,479.3 v-3 M70.37,268.6 v3" stroke-width="0.85"/><path d="M78.54,479.3 v-3 M78.54,268.6 v3" stroke-width="0.85"/><path d="M86.71,479.3 v-3 M86.71,268.6 v3" stroke-width="0.85"/><path d="M94.88,479.3 v-5.8 M94.88,268.6 v5.8" stroke-width="1.35"/><path d="M103.05,479.3 v-3 M103.05,268.6 v3" stroke-width="0.85"/><path d="M111.22,479.3 v-3 M111.22,268.6 v3" stroke-width="0.85"/><path d="M119.39,479.3 v-3 M119.39,268.6 v3" stroke-width="0.85"/><path d="M127.56,479.3 v-3 M127.56,268.6 v3" stroke-width="0.85"/><path d="M135.73,479.3 v-5.8 M135.73,268.6 v5.8" stroke-width="1.35"/><path d="M143.9,479.3 v-3 M143.9,268.6 v3" stroke-width="0.85"/><path d="M152.07,479.3 v-3 M152.07,268.6 v3" stroke-width="0.85"/><path d="M160.24,479.3 v-3 M160.24,268.6 v3" stroke-width="0.85"/><path d="M168.41,479.3 v-3 M168.41,268.6 v3" stroke-width="0.85"/><path d="M176.58,479.3 v-5.8 M176.58,268.6 v5.8" stroke-width="1.35"/><path d="M184.75,479.3 v-3 M184.75,268.6 v3" stroke-width="0.85"/><path d="M192.92,479.3 v-3 M192.92,268.6 v3" stroke-width="0.85"/><path d="M201.09,479.3 v-3 M201.09,268.6 v3" stroke-width="0.85"/><path d="M209.26,479.3 v-3 M209.26,268.6 v3" stroke-width="0.85"/><path d="M217.43,479.3 v-5.8 M217.43,268.6 v5.8" stroke-width="1.35"/><path d="M225.61,479.3 v-3 M225.61,268.6 v3" stroke-width="0.85"/><path d="M233.78,479.3 v-3 M233.78,268.6 v3" stroke-width="0.85"/><path d="M241.95,479.3 v-3 M241.95,268.6 v3" stroke-width="0.85"/><path d="M250.12,479.3 v-3 M250.12,268.6 v3" stroke-width="0.85"/><path d="M258.29,479.3 v-5.8 M258.29,268.6 v5.8" stroke-width="1.35"/><path d="M266.46,479.3 v-3 M266.46,268.6 v3" stroke-width="0.85"/><path d="M33.6,475.22 h3 M268.5,475.22 h-3" stroke-width="0.85"/><path d="M33.6,469.78 h3 M268.5,469.78 h-3" stroke-width="0.85"/><path d="M33.6,464.35 h3 M268.5,464.35 h-3" stroke-width="0.85"/><path d="M33.6,458.91 h5.8 M268.5,458.91 h-5.8" stroke-width="1.35"/><path d="M33.6,453.47 h3 M268.5,453.47 h-3" stroke-width="0.85"/><path d="M33.6,448.03 h3 M268.5,448.03 h-3" stroke-width="0.85"/><path d="M33.6,442.6 h3 M268.5,442.6 h-3" stroke-width="0.85"/><path d="M33.6,437.16 h3 M268.5,437.16 h-3" stroke-width="0.85"/><path d="M33.6,431.72 h5.8 M268.5,431.72 h-5.8" stroke-width="1.35"/><path d="M33.6,426.29 h3 M268.5,426.29 h-3" stroke-width="0.85"/><path d="M33.6,420.85 h3 M268.5,420.85 h-3" stroke-width="0.85"/><path d="M33.6,415.41 h3 M268.5,415.41 h-3" stroke-width="0.85"/><path d="M33.6,409.97 h3 M268.5,409.97 h-3" stroke-width="0.85"/><path d="M33.6,404.54 h5.8 M268.5,404.54 h-5.8" stroke-width="1.35"/><path d="M33.6,399.1 h3 M268.5,399.1 h-3" stroke-width="0.85"/><path d="M33.6,393.66 h3 M268.5,393.66 h-3" stroke-width="0.85"/><path d="M33.6,388.22 h3 M268.5,388.22 h-3" stroke-width="0.85"/><path d="M33.6,382.79 h3 M268.5,382.79 h-3" stroke-width="0.85"/><path d="M33.6,377.35 h5.8 M268.5,377.35 h-5.8" stroke-width="1.35"/><path d="M33.6,371.91 h3 M268.5,371.91 h-3" stroke-width="0.85"/><path d="M33.6,366.47 h3 M268.5,366.47 h-3" stroke-width="0.85"/><path d="M33.6,361.04 h3 M268.5,361.04 h-3" stroke-width="0.85"/><path d="M33.6,355.6 h3 M268.5,355.6 h-3" stroke-width="0.85"/><path d="M33.6,350.16 h5.8 M268.5,350.16 h-5.8" stroke-width="1.35"/><path d="M33.6,344.72 h3 M268.5,344.72 h-3" stroke-width="0.85"/><path d="M33.6,339.29 h3 M268.5,339.29 h-3" stroke-width="0.85"/><path d="M33.6,333.85 h3 M268.5,333.85 h-3" stroke-width="0.85"/><path d="M33.6,328.41 h3 M268.5,328.41 h-3" stroke-width="0.85"/><path d="M33.6,322.97 h5.8 M268.5,322.97 h-5.8" stroke-width="1.35"/><path d="M33.6,317.54 h3 M268.5,317.54 h-3" stroke-width="0.85"/><path d="M33.6,312.1 h3 M268.5,312.1 h-3" stroke-width="0.85"/><path d="M33.6,306.66 h3 M268.5,306.66 h-3" stroke-width="0.85"/><path d="M33.6,301.22 h3 M268.5,301.22 h-3" stroke-width="0.85"/><path d="M33.6,295.79 h5.8 M268.5,295.79 h-5.8" stroke-width="1.35"/><path d="M33.6,290.35 h3 M268.5,290.35 h-3" stroke-width="0.85"/><path d="M33.6,284.91 h3 M268.5,284.91 h-3" stroke-width="0.85"/><path d="M33.6,279.47 h3 M268.5,279.47 h-3" stroke-width="0.85"/><path d="M33.6,274.04 h3 M268.5,274.04 h-3" stroke-width="0.85"/></g>
<rect x="33.6" y="268.6" width="234.9" height="210.7" fill="none" stroke="#000" stroke-width="1.3"/>
<g font-family='"Liberation Sans", Arial, sans-serif' font-size="8.4" fill="#1e1e1e" text-anchor="middle"><text x="54.03" y="488.3">320</text><text x="94.88" y="488.3">360</text><text x="135.73" y="488.3">400</text><text x="176.58" y="488.3">440</text><text x="217.43" y="488.3">480</text><text x="258.29" y="488.3">520</text></g>
<g font-family='"Liberation Sans", Arial, sans-serif' font-size="8.4" fill="#1e1e1e" text-anchor="end"><text x="30.2" y="461.91">0.12</text><text x="30.2" y="434.72">0.16</text><text x="30.2" y="407.54">0.2</text><text x="30.2" y="380.35">0.24</text><text x="30.2" y="353.16">0.28</text><text x="30.2" y="325.97">0.32</text><text x="30.2" y="298.79">0.36</text><text x="30.2" y="271.6">0.4</text></g>
<text x="107.5" y="499.8" font-family='"Liberation Serif", "Times New Roman", serif' font-weight="bold" font-size="9.2" fill="#111" textLength="86.5" lengthAdjust="spacingAndGlyphs">TEMPERATURE (K)</text>
<text transform="translate(11.8,415.5) rotate(-90)" font-family='"Liberation Serif", "Times New Roman", serif' font-weight="bold" font-size="9.2" fill="#111" textLength="83.3" lengthAdjust="spacingAndGlyphs">DOOR HEIGHT (m)</text>
<text x="141.9" y="516.6" font-family='"Liberation Serif", "Times New Roman", serif' font-weight="bold" font-size="12.5" fill="#111" text-anchor="middle">(c)</text>
<path d="M325.39,444.09 L325.83,443.52 L326.27,442.96 L326.72,442.41 L327.18,441.86 L327.63,441.32 L328.09,440.79 L328.55,440.27 L329.02,439.75 L329.48,439.24 L329.96,438.73 L330.43,438.23 L330.91,437.74 L331.39,437.25 L331.87,436.77 L332.36,436.3 L332.84,435.83 L333.34,435.37 L333.83,434.92 L334.33,434.47 L334.83,434.03 L335.33,433.59 L335.84,433.16 L336.35,432.74 L336.86,432.32 L337.37,431.91 L337.89,431.5 L338.41,431.1 L338.93,430.71 L339.46,430.32 L339.98,429.94 L340.51,429.56 L341.05,429.19 L341.58,428.82 L342.12,428.46 L342.66,428.1 L343.2,427.75 L343.74,427.4 L344.29,427.06 L344.84,426.73 L345.39,426.4 L345.95,426.07 L346.5,425.75 L347.06,425.43 L347.62,425.12 L348.19,424.82 L348.75,424.52 L349.32,424.22 L349.89,423.93 L350.46,423.64 L351.03,423.35 L351.61,423.08 L352.19,422.8 L352.77,422.53 L353.35,422.26 L353.93,422 L354.52,421.74 L355.11,421.49 L355.7,421.24 L356.29,421 L356.88,420.75 L357.48,420.52 L358.08,420.28 L358.67,420.05 L359.28,419.83 L359.88,419.6 L360.48,419.38 L361.09,419.17 L361.7,418.96 L362.31,418.75 L362.92,418.54 L363.53,418.34 L364.14,418.14 L364.76,417.95 L365.38,417.75 L365.99,417.56 L366.61,417.38 L367.24,417.19 L367.86,417.01 L368.48,416.84 L369.11,416.66 L369.74,416.49 L370.37,416.32 L370.99,416.15 L371.63,415.99 L372.26,415.83 L372.89,415.67 L373.53,415.51 L374.16,415.36 L374.8,415.21 L375.44,415.06 L376.08,414.91 L376.72,414.77 L377.36,414.62 L378,414.48 L378.65,414.34 L379.29,414.21 L379.94,414.07 L380.58,413.94 L381.23,413.81 L381.88,413.68 L382.53,413.55 L383.18,413.42 L383.83,413.3 L384.48,413.18 L385.13,413.05 L385.79,412.93 L386.44,412.81 L387.1,412.7 L387.75,412.58 L388.41,412.46 L389.07,412.35 L389.72,412.24 L390.38,412.13 L391.04,412.01 L391.7,411.9 L392.36,411.79 L393.02,411.69 L393.68,411.58 L394.34,411.47 L395,411.36 L395.66,411.26 L396.33,411.15 L396.99,411.05 L397.65,410.94 L398.31,410.84 L398.98,410.74 L399.64,410.63 L400.31,410.53 L400.97,410.42 L401.63,410.32 L402.3,410.22 L402.96,410.11 L403.63,410.01 L404.29,409.91 L404.96,409.8 L405.62,409.7 L406.29,409.6 L406.95,409.49 L407.62,409.39 L408.28,409.28 L408.95,409.17 L409.61,409.07 L410.28,408.96 L410.94,408.85 L411.61,408.74 L412.27,408.63 L412.93,408.52 L413.6,408.41 L414.26,408.3 L414.92,408.19 L415.59,408.07 L416.25,407.96 L416.91,407.84 L417.57,407.72 L418.23,407.6 L418.9,407.48 L419.56,407.36 L420.22,407.24 L420.88,407.11 L421.53,406.99 L422.19,406.86 L422.85,406.73 L423.51,406.6 L424.16,406.46 L424.82,406.33 L425.47,406.19 L426.13,406.05 L426.78,405.91 L427.44,405.77 L428.09,405.62 L428.74,405.48 L429.39,405.33 L430.04,405.18 L430.69,405.02 L431.34,404.86 L431.98,404.71 L432.63,404.54 L433.27,404.38 L433.92,404.21 L434.56,404.04 L435.2,403.87 L435.84,403.7 L436.48,403.52 L437.12,403.34 L437.76,403.15 L438.4,402.97 L439.03,402.78 L439.67,402.59 L440.3,402.39 L440.93,402.19 L441.56,401.99 L442.19,401.78 L442.82,401.57 L443.44,401.36 L444.07,401.15 L444.69,400.93 L445.32,400.71 L445.94,400.48 L446.56,400.25 L447.18,400.02 L447.79,399.79 L448.41,399.55 L449.02,399.31 L449.64,399.07 L450.25,398.82 L450.86,398.57 L451.46,398.32 L452.07,398.06 L452.68,397.8 L453.28,397.54 L453.88,397.27 L454.48,397 L455.08,396.73 L455.68,396.46 L456.28,396.18 L456.87,395.9 L457.47,395.62 L458.06,395.33 L458.65,395.04 L459.24,394.75 L459.82,394.45 L460.41,394.15 L460.99,393.85 L461.57,393.55 L462.15,393.24 L462.73,392.93 L463.31,392.61 L463.88,392.3 L464.46,391.98 L465.03,391.66 L465.6,391.33 L466.17,391 L466.73,390.67 L467.3,390.34 L467.86,390 L468.42,389.66 L468.98,389.32 L469.54,388.97 L470.09,388.63 L470.65,388.27 L471.2,387.92 L471.75,387.56 L472.3,387.2 L472.84,386.84 L473.39,386.48 L473.93,386.11 L474.47,385.74 L475.01,385.37 L475.55,384.99 L476.08,384.61 L476.61,384.23 L477.14,383.84 L477.67,383.46 L478.2,383.07 L478.72,382.68 L479.25,382.28 L479.77,381.88 L480.29,381.48 L480.8,381.08 L481.32,380.67 L481.83,380.26 L482.34,379.85 L482.85,379.44 L483.35,379.02 L483.86,378.6 L484.36,378.18 L484.86,377.76 L485.36,377.33 L485.85,376.9 L486.34,376.47 L486.84,376.04 L487.32,375.6 L487.81,375.16 L488.29,374.72 L488.78,374.27 L489.26,373.82 L489.73,373.37 L490.21,372.92 L490.68,372.47 L491.15,372.01 L491.62,371.55 L492.08,371.09 L492.55,370.62 L493.01,370.15 L493.47,369.69 L493.92,369.21 L494.38,368.74 L494.83,368.26 L495.28,367.78 L495.72,367.3 L496.17,366.82 L496.61,366.33 L497.05,365.84 L497.49,365.35 L497.92,364.85 L498.35,364.36 L498.78,363.86 L499.21,363.36 L499.63,362.86 L500.05,362.35 L500.47,361.84 L500.89,361.33 L501.3,360.82 L501.72,360.3 L502.12,359.79 L502.53,359.27 L502.93,358.75 L503.34,358.22 L503.73,357.7 L504.13,357.17 L504.52,356.64 L504.91,356.11 L505.3,355.57 L505.68,355.03 L506.07,354.49 L506.45,353.95 L506.82,353.41 L507.2,352.86 L507.57,352.31 L507.94,351.76 L508.3,351.21 L508.66,350.66 L509.02,350.1 L509.38,349.54 L509.73,348.98 L510.09,348.42 L510.43,347.85 L510.78,347.28 L511.12,346.71 L511.46,346.14 L511.8,345.57 L512.13,344.99 L512.47,344.42 L512.79,343.84 L513.12,343.25 L513.44,342.67 L513.76,342.08 L514.08,341.5 L514.39,340.91 L514.7,340.32 L515.01,339.72 L515.31,339.13 L515.61,338.53 L515.91,337.93 L516.21,337.33 L516.5,336.72 L516.79,336.12 L517.07,335.51 L517.35,334.9 L517.63,334.29 L517.91,333.68 L518.18,333.06 L518.45,332.44 L518.72,331.83 L518.98,331.2 L519.24,330.58 L519.5,329.96 L519.76,329.33 L520.01,328.7 L520.25,328.07 L520.5,327.44 L520.74,326.81 L520.98,326.17 L521.21,325.54 L521.44,324.9 L521.67,324.26 L521.89,323.61 L522.12,322.97 L522.33,322.32 L522.55,321.68 L522.76,321.03 L522.97,320.38 L523.17,319.72 L523.37,319.07 L523.57,318.41 L523.76,317.75 L523.95,317.09 L524.14,316.43 L524.32,315.77 L524.5,315.1 L524.68,314.44 L524.85,313.77 L525.02,313.1 L525.19,312.43 L525.35,311.76 L525.51,311.08 L525.67,310.41 L525.82,309.73 L525.97,309.05 L526.11,308.37 L526.25,307.69 L526.39,307 L526.52,306.32 L526.65,305.63 L526.78,304.94 L526.9,304.25 L527.02,303.56 L527.14,302.87 L527.25,302.17" fill="none" stroke="#b4b4b4" stroke-width="1.0" stroke-linejoin="round" stroke-dasharray="12.5 3.6 2 3.6 2 3.6" clip-path="url(#cd)"/>
<path d="M316.88,475.09 L317.03,474.17 L317.18,473.25 L317.35,472.35 L317.52,471.45 L317.71,470.56 L317.91,469.69 L318.12,468.82 L318.35,467.96 L318.58,467.1 L318.83,466.26 L319.08,465.43 L319.35,464.6 L319.63,463.78 L319.92,462.98 L320.22,462.18 L320.52,461.39 L320.84,460.6 L321.17,459.83 L321.51,459.07 L321.86,458.31 L322.22,457.56 L322.59,456.82 L322.97,456.09 L323.35,455.37 L323.75,454.66 L324.16,453.95 L324.57,453.25 L325,452.57 L325.43,451.88 L325.87,451.21 L326.32,450.55 L326.78,449.89 L327.25,449.25 L327.73,448.61 L328.21,447.98 L328.7,447.35 L329.2,446.74 L329.71,446.13 L330.23,445.54 L330.75,444.95 L331.28,444.36 L331.82,443.79 L332.37,443.22 L332.92,442.66 L333.48,442.11 L334.05,441.57 L334.63,441.04 L335.21,440.51 L335.79,439.99 L336.39,439.48 L336.99,438.98 L337.6,438.48 L338.21,437.99 L338.83,437.51 L339.46,437.04 L340.09,436.58 L340.73,436.12 L341.37,435.67 L342.02,435.23 L342.67,434.8 L343.33,434.37 L344,433.95 L344.67,433.54 L345.34,433.13 L346.02,432.74 L346.71,432.35 L347.4,431.97 L348.09,431.59 L348.79,431.22 L349.49,430.86 L350.2,430.51 L350.91,430.16 L351.63,429.83 L352.35,429.5 L353.07,429.17 L353.79,428.85 L354.53,428.55 L355.26,428.24 L356,427.95 L356.74,427.66 L357.48,427.38 L358.23,427.1 L358.98,426.83 L359.73,426.57 L360.49,426.31 L361.25,426.06 L362.01,425.82 L362.77,425.58 L363.54,425.35 L364.31,425.12 L365.08,424.9 L365.85,424.68 L366.63,424.47 L367.41,424.26 L368.19,424.06 L368.97,423.86 L369.76,423.67 L370.55,423.48 L371.34,423.3 L372.13,423.12 L372.92,422.94 L373.71,422.77 L374.51,422.6 L375.31,422.43 L376.1,422.27 L376.9,422.11 L377.7,421.96 L378.51,421.81 L379.31,421.66 L380.11,421.51 L380.92,421.37 L381.73,421.23 L382.53,421.09 L383.34,420.95 L384.15,420.81 L384.96,420.68 L385.76,420.55 L386.57,420.42 L387.38,420.29 L388.19,420.17 L389,420.04 L389.81,419.92 L390.62,419.79 L391.43,419.67 L392.24,419.55 L393.05,419.43 L393.86,419.3 L394.67,419.18 L395.48,419.06 L396.29,418.94 L397.1,418.82 L397.9,418.7 L398.71,418.58 L399.51,418.46 L400.32,418.33 L401.12,418.21 L401.92,418.08 L402.72,417.96 L403.52,417.83 L404.32,417.7 L405.12,417.57 L405.92,417.44 L406.71,417.31 L407.51,417.18 L408.3,417.04 L409.09,416.9 L409.88,416.76 L410.67,416.62 L411.46,416.48 L412.25,416.33 L413.03,416.19 L413.82,416.04 L414.6,415.89 L415.38,415.73 L416.16,415.58 L416.94,415.42 L417.72,415.26 L418.5,415.09 L419.27,414.93 L420.05,414.76 L420.82,414.59 L421.59,414.41 L422.36,414.23 L423.13,414.05 L423.9,413.87 L424.67,413.68 L425.43,413.49 L426.2,413.29 L426.96,413.09 L427.72,412.89 L428.48,412.69 L429.24,412.48 L429.99,412.26 L430.75,412.05 L431.5,411.83 L432.25,411.6 L433.01,411.37 L433.75,411.14 L434.5,410.9 L435.25,410.66 L435.99,410.41 L436.74,410.16 L437.48,409.91 L438.22,409.65 L438.96,409.38 L439.69,409.11 L440.43,408.83 L441.16,408.56 L441.9,408.27 L442.63,407.98 L443.36,407.68 L444.08,407.38 L444.81,407.08 L445.53,406.77 L446.26,406.45 L446.98,406.13 L447.7,405.8 L448.42,405.46 L449.13,405.12 L449.85,404.78 L450.56,404.43 L451.27,404.07 L451.98,403.71 L452.68,403.34 L453.39,402.97 L454.09,402.59 L454.79,402.21 L455.49,401.82 L456.19,401.43 L456.88,401.03 L457.58,400.62 L458.27,400.21 L458.95,399.8 L459.64,399.38 L460.32,398.96 L461.01,398.53 L461.68,398.09 L462.36,397.65 L463.04,397.21 L463.71,396.76 L464.38,396.31 L465.04,395.85 L465.71,395.38 L466.37,394.92 L467.03,394.44 L467.69,393.97 L468.34,393.48 L468.99,393 L469.64,392.51 L470.29,392.01 L470.93,391.51 L471.57,391.01 L472.21,390.5 L472.85,389.98 L473.48,389.47 L474.11,388.94 L474.73,388.42 L475.36,387.89 L475.98,387.35 L476.6,386.82 L477.21,386.27 L477.82,385.73 L478.43,385.18 L479.03,384.62 L479.63,384.06 L480.23,383.5 L480.83,382.93 L481.42,382.36 L482.01,381.79 L482.59,381.21 L483.17,380.63 L483.75,380.04 L484.33,379.45 L484.9,378.86 L485.47,378.27 L486.03,377.67 L486.59,377.06 L487.15,376.46 L487.7,375.84 L488.25,375.23 L488.8,374.61 L489.34,373.99 L489.88,373.37 L490.41,372.74 L490.94,372.11 L491.47,371.48 L491.99,370.84 L492.51,370.2 L493.03,369.56 L493.54,368.91 L494.04,368.26 L494.55,367.61 L495.05,366.95 L495.54,366.3 L496.03,365.64 L496.52,364.97 L497,364.3 L497.48,363.63 L497.95,362.96 L498.42,362.29 L498.89,361.61 L499.35,360.93 L499.8,360.25 L500.25,359.56 L500.7,358.87 L501.14,358.18 L501.58,357.49 L502.02,356.79 L502.44,356.1 L502.87,355.4 L503.29,354.69 L503.7,353.99 L504.11,353.28 L504.52,352.57 L504.92,351.86 L505.32,351.15 L505.71,350.43 L506.09,349.71 L506.47,348.99 L506.85,348.27 L507.22,347.55 L507.59,346.82 L507.95,346.09 L508.3,345.36 L508.65,344.63 L509,343.9 L509.34,343.16 L509.68,342.42 L510.01,341.69 L510.33,340.95 L510.65,340.2 L510.96,339.46 L511.27,338.72 L511.58,337.97 L511.87,337.22 L512.17,336.47 L512.45,335.72 L512.73,334.97 L513.01,334.21 L513.28,333.46 L513.54,332.7 L513.8,331.95 L514.05,331.19 L514.3,330.43 L514.54,329.67 L514.77,328.91 L515,328.14 L515.21,327.38 L515.43,326.62 L515.63,325.85 L515.83,325.08 L516.02,324.32 L516.2,323.55 L516.37,322.78 L516.54,322.01 L516.7,321.24 L516.85,320.47 L516.99,319.7 L517.12,318.93 L517.25,318.16 L517.37,317.39 L517.47,316.62 L517.57,315.85 L517.66,315.08 L517.74,314.3 L517.81,313.53 L517.88,312.76 L517.93,311.99 L517.97,311.22 L518,310.44 L518.02,309.67 L518.04,308.9 L518.04,308.13 L518.03,307.36 L518.01,306.59 L517.98,305.81 L517.94,305.04 L517.89,304.27 L517.82,303.51 L517.75,302.74 L517.66,301.97 L517.57,301.2 L517.46,300.43 L517.34,299.67 L517.2,298.9 L517.06,298.14 L516.9,297.38 L516.73,296.61 L516.55,295.85 L516.35,295.09 L516.15,294.33 L515.93,293.57 L515.69,292.82 L515.45,292.06 L515.18,291.3 L514.91,290.55 L514.62,289.8 L514.32,289.05 L514.01,288.3 L513.68,287.55 L513.34,286.8 L512.98,286.06 L512.61,285.32 L512.22,284.57 L511.82,283.83 L511.4,283.1 L510.97,282.36 L510.52,281.62 L510.06,280.89 L509.59,280.16 L509.09,279.43 L508.59,278.71 L508.06,277.98 L507.52,277.26 L506.96,276.54 L506.39,275.82 L505.8,275.1 L505.2,274.39 L504.58,273.68" fill="none" stroke="#141414" stroke-width="1.2" stroke-linejoin="round" clip-path="url(#cd)"/>
<g fill="#000"><circle cx="316.8" cy="474.2" r="3.75"/><circle cx="329.2" cy="446.9" r="3.75"/><circle cx="363" cy="425.9" r="3.75"/><circle cx="434.3" cy="412.2" r="3.75"/><circle cx="490.8" cy="370.6" r="3.75"/><circle cx="512.5" cy="336" r="3.75"/><circle cx="517.9" cy="301.8" r="3.75"/><circle cx="505" cy="274.1" r="3.75"/></g>
<path d="M311.64,482.56 L312.15,481.77 L312.67,480.98 L313.2,480.2 L313.73,479.43 L314.26,478.67 L314.8,477.92 L315.34,477.18 L315.88,476.44 L316.43,475.71 L316.99,474.99 L317.54,474.28 L318.1,473.58 L318.67,472.88 L319.24,472.19 L319.81,471.51 L320.39,470.84 L320.97,470.18 L321.55,469.52 L322.14,468.87 L322.73,468.23 L323.33,467.59 L323.93,466.96 L324.53,466.34 L325.14,465.73 L325.75,465.13 L326.36,464.53 L326.98,463.93 L327.6,463.35 L328.23,462.77 L328.85,462.2 L329.49,461.64 L330.12,461.08 L330.76,460.53 L331.4,459.98 L332.04,459.44 L332.69,458.91 L333.34,458.39 L334,457.87 L334.66,457.36 L335.32,456.85 L335.98,456.35 L336.65,455.86 L337.32,455.37 L337.99,454.89 L338.67,454.41 L339.34,453.94 L340.03,453.47 L340.71,453.02 L341.4,452.56 L342.09,452.11 L342.78,451.67 L343.48,451.24 L344.18,450.8 L344.88,450.38 L345.58,449.96 L346.29,449.54 L347,449.13 L347.71,448.73 L348.42,448.33 L349.14,447.93 L349.86,447.54 L350.58,447.16 L351.31,446.77 L352.03,446.4 L352.76,446.03 L353.49,445.66 L354.23,445.3 L354.96,444.94 L355.7,444.59 L356.44,444.24 L357.18,443.89 L357.93,443.55 L358.68,443.22 L359.42,442.88 L360.18,442.55 L360.93,442.23 L361.68,441.91 L362.44,441.59 L363.2,441.28 L363.96,440.97 L364.72,440.67 L365.49,440.36 L366.26,440.06 L367.02,439.77 L367.79,439.48 L368.57,439.19 L369.34,438.91 L370.12,438.62 L370.89,438.35 L371.67,438.07 L372.45,437.8 L373.23,437.53 L374.02,437.26 L374.8,437 L375.59,436.74 L376.37,436.48 L377.16,436.22 L377.95,435.97 L378.75,435.72 L379.54,435.47 L380.33,435.23 L381.13,434.98 L381.93,434.74 L382.72,434.5 L383.52,434.27 L384.32,434.03 L385.12,433.8 L385.93,433.57 L386.73,433.34 L387.53,433.11 L388.34,432.89 L389.15,432.67 L389.95,432.44 L390.76,432.22 L391.57,432.01 L392.38,431.79 L393.19,431.57 L394,431.36 L394.81,431.15 L395.63,430.93 L396.44,430.72 L397.25,430.52 L398.07,430.31 L398.88,430.1 L399.7,429.89 L400.52,429.69 L401.33,429.48 L402.15,429.28 L402.97,429.07 L403.79,428.87 L404.6,428.67 L405.42,428.47 L406.24,428.27 L407.06,428.07 L407.88,427.86 L408.7,427.66 L409.52,427.46 L410.34,427.26 L411.16,427.06 L411.98,426.86 L412.8,426.66 L413.62,426.46 L414.44,426.26 L415.26,426.06 L416.08,425.86 L416.9,425.66 L417.72,425.45 L418.54,425.25 L419.36,425.05 L420.18,424.84 L421,424.64 L421.82,424.43 L422.64,424.23 L423.46,424.02 L424.28,423.81 L425.1,423.6 L425.91,423.39 L426.73,423.18 L427.55,422.97 L428.36,422.76 L429.18,422.54 L429.99,422.32 L430.81,422.11 L431.62,421.89 L432.43,421.67 L433.24,421.44 L434.05,421.22 L434.87,420.99 L435.67,420.76 L436.48,420.53 L437.29,420.3 L438.1,420.07 L438.91,419.83 L439.71,419.59 L440.51,419.35 L441.32,419.11 L442.12,418.87 L442.92,418.62 L443.72,418.37 L444.52,418.12 L445.32,417.86 L446.12,417.61 L446.91,417.35 L447.7,417.08 L448.5,416.82 L449.29,416.55 L450.08,416.28 L450.87,416 L451.66,415.72 L452.44,415.44 L453.23,415.16 L454.01,414.87 L454.79,414.58 L455.57,414.29 L456.35,413.99 L457.13,413.69 L457.9,413.38 L458.67,413.08 L459.45,412.76 L460.22,412.45 L460.98,412.13 L461.75,411.81 L462.52,411.48 L463.28,411.15 L464.04,410.81 L464.8,410.47 L465.56,410.13 L466.31,409.78 L467.06,409.43 L467.81,409.07 L468.56,408.71 L469.31,408.35 L470.05,407.98 L470.8,407.6 L471.54,407.22 L472.28,406.84 L473.01,406.45 L473.74,406.05 L474.48,405.65 L475.2,405.25 L475.93,404.84 L476.66,404.43 L477.38,404.01 L478.1,403.58 L478.81,403.15 L479.53,402.72 L480.24,402.28 L480.94,401.83 L481.65,401.38 L482.35,400.93 L483.04,400.46 L483.73,400 L484.42,399.52 L485.11,399.05 L485.79,398.56 L486.46,398.07 L487.13,397.58 L487.8,397.08 L488.46,396.57 L489.11,396.06 L489.77,395.54 L490.41,395.02 L491.05,394.49 L491.68,393.96 L492.31,393.42 L492.93,392.87 L493.55,392.32 L494.16,391.76 L494.76,391.2 L495.36,390.63 L495.95,390.05 L496.53,389.47 L497.11,388.88 L497.67,388.29 L498.24,387.69 L498.79,387.09 L499.33,386.47 L499.87,385.86 L500.4,385.23 L500.92,384.6 L501.44,383.96 L501.94,383.32 L502.44,382.67 L502.93,382.02 L503.4,381.36 L503.87,380.69 L504.33,380.01 L504.78,379.33 L505.22,378.64 L505.66,377.95 L506.08,377.25 L506.49,376.54 L506.89,375.83 L507.28,375.11 L507.67,374.38 L508.04,373.65 L508.41,372.92 L508.77,372.17 L509.11,371.43 L509.45,370.67 L509.79,369.92 L510.11,369.15 L510.43,368.39 L510.74,367.62 L511.04,366.84 L511.34,366.06 L511.62,365.28 L511.9,364.49 L512.18,363.7 L512.45,362.9 L512.71,362.1 L512.97,361.3 L513.22,360.49 L513.46,359.69 L513.71,358.88 L513.94,358.06 L514.17,357.25 L514.4,356.43 L514.62,355.61 L514.83,354.79 L515.05,353.96 L515.26,353.14 L515.46,352.31 L515.66,351.48 L515.86,350.65 L516.05,349.82 L516.25,348.99 L516.44,348.15 L516.62,347.32 L516.81,346.49 L516.99,345.66 L517.17,344.82 L517.35,343.99 L517.52,343.15 L517.7,342.32 L517.87,341.49 L518.04,340.66 L518.22,339.83 L518.39,338.99 L518.56,338.16 L518.72,337.33 L518.89,336.5 L519.06,335.67 L519.22,334.85 L519.39,334.02 L519.56,333.19 L519.72,332.36 L519.88,331.53 L520.05,330.71 L520.21,329.88 L520.38,329.06 L520.54,328.23 L520.7,327.41 L520.87,326.58 L521.03,325.76 L521.19,324.94 L521.36,324.11 L521.52,323.29 L521.69,322.47 L521.86,321.65 L522.02,320.83 L522.19,320.01 L522.36,319.19 L522.53,318.37 L522.7,317.56 L522.87,316.74 L523.04,315.92 L523.21,315.11 L523.39,314.29 L523.56,313.48 L523.74,312.66 L523.92,311.85 L524.1,311.03 L524.28,310.22 L524.47,309.41 L524.65,308.6 L524.84,307.79 L525.03,306.98 L525.22,306.17 L525.42,305.36 L525.61,304.55 L525.81,303.74 L526.01,302.94 L526.22,302.13 L526.42,301.33 L526.63,300.52 L526.84,299.72 L527.06,298.92 L527.27,298.11 L527.49,297.31 L527.72,296.51 L527.94,295.71 L528.17,294.91 L528.4,294.11 L528.64,293.31 L528.88,292.52 L529.12,291.72 L529.37,290.92 L529.62,290.13 L529.87,289.33 L530.13,288.54 L530.39,287.75 L530.66,286.95 L530.92,286.16 L531.2,285.37 L531.48,284.58 L531.76,283.79 L532.04,283.01 L532.33,282.22 L532.63,281.43 L532.93,280.65 L533.23,279.86 L533.54,279.08 L533.86,278.29 L534.18,277.51 L534.5,276.73 L534.83,275.95 L535.16,275.17 L535.5,274.39" fill="none" stroke="#5c5cff" stroke-width="1.05" stroke-linejoin="round" clip-path="url(#cd)"/>
<line x1="359.1" y1="324.5" x2="409.1" y2="324.5" stroke="#cdcdcd" stroke-width="1.0" stroke-dasharray="13.4 3 1.5 5 1.5 3.6"/>
<line x1="359.1" y1="338.2" x2="409.1" y2="338.2" stroke="#404040" stroke-width="1.05"/>
<circle cx="384.2" cy="338.2" r="3.65" fill="#000"/>
<line x1="359.1" y1="351.5" x2="409.1" y2="351.5" stroke="#7474ff" stroke-width="1.0"/>
<text x="418.3" y="328.1" font-family='"Liberation Sans", Arial, sans-serif' font-weight="bold" font-size="11.3" fill="#111">FDS6</text>
<text x="418.3" y="341.8" font-family='"Liberation Sans", Arial, sans-serif' font-weight="bold" font-size="11.3" fill="#111">EXP</text>
<text x="418.3" y="355.1" font-family='"Liberation Sans", Arial, sans-serif' font-weight="bold" font-size="11.3" fill="#111">ISIS</text>
<g stroke="#000" fill="none" stroke-linecap="butt"><path d="M309.98,480.9 v-3 M309.98,267.4 v3" stroke-width="0.85"/><path d="M316.93,480.9 v-3 M316.93,267.4 v3" stroke-width="0.85"/><path d="M323.89,480.9 v-5.8 M323.89,267.4 v5.8" stroke-width="1.35"/><path d="M330.84,480.9 v-3 M330.84,267.4 v3" stroke-width="0.85"/><path d="M337.79,480.9 v-3 M337.79,267.4 v3" stroke-width="0.85"/><path d="M344.75,480.9 v-3 M344.75,267.4 v3" stroke-width="0.85"/><path d="M351.7,480.9 v-3 M351.7,267.4 v3" stroke-width="0.85"/><path d="M358.66,480.9 v-5.8 M358.66,267.4 v5.8" stroke-width="1.35"/><path d="M365.61,480.9 v-3 M365.61,267.4 v3" stroke-width="0.85"/><path d="M372.56,480.9 v-3 M372.56,267.4 v3" stroke-width="0.85"/><path d="M379.52,480.9 v-3 M379.52,267.4 v3" stroke-width="0.85"/><path d="M386.47,480.9 v-3 M386.47,267.4 v3" stroke-width="0.85"/><path d="M393.43,480.9 v-5.8 M393.43,267.4 v5.8" stroke-width="1.35"/><path d="M400.38,480.9 v-3 M400.38,267.4 v3" stroke-width="0.85"/><path d="M407.33,480.9 v-3 M407.33,267.4 v3" stroke-width="0.85"/><path d="M414.29,480.9 v-3 M414.29,267.4 v3" stroke-width="0.85"/><path d="M421.24,480.9 v-3 M421.24,267.4 v3" stroke-width="0.85"/><path d="M428.2,480.9 v-5.8 M428.2,267.4 v5.8" stroke-width="1.35"/><path d="M435.15,480.9 v-3 M435.15,267.4 v3" stroke-width="0.85"/><path d="M442.1,480.9 v-3 M442.1,267.4 v3" stroke-width="0.85"/><path d="M449.06,480.9 v-3 M449.06,267.4 v3" stroke-width="0.85"/><path d="M456.01,480.9 v-3 M456.01,267.4 v3" stroke-width="0.85"/><path d="M462.97,480.9 v-5.8 M462.97,267.4 v5.8" stroke-width="1.35"/><path d="M469.92,480.9 v-3 M469.92,267.4 v3" stroke-width="0.85"/><path d="M476.87,480.9 v-3 M476.87,267.4 v3" stroke-width="0.85"/><path d="M483.83,480.9 v-3 M483.83,267.4 v3" stroke-width="0.85"/><path d="M490.78,480.9 v-3 M490.78,267.4 v3" stroke-width="0.85"/><path d="M497.74,480.9 v-5.8 M497.74,267.4 v5.8" stroke-width="1.35"/><path d="M504.69,480.9 v-3 M504.69,267.4 v3" stroke-width="0.85"/><path d="M511.65,480.9 v-3 M511.65,267.4 v3" stroke-width="0.85"/><path d="M518.6,480.9 v-3 M518.6,267.4 v3" stroke-width="0.85"/><path d="M525.55,480.9 v-3 M525.55,267.4 v3" stroke-width="0.85"/><path d="M532.51,480.9 v-5.8 M532.51,267.4 v5.8" stroke-width="1.35"/><path d="M539.46,480.9 v-3 M539.46,267.4 v3" stroke-width="0.85"/><path d="M306.5,476.77 h3 M541.2,476.77 h-3" stroke-width="0.85"/><path d="M306.5,471.26 h3 M541.2,471.26 h-3" stroke-width="0.85"/><path d="M306.5,465.75 h3 M541.2,465.75 h-3" stroke-width="0.85"/><path d="M306.5,460.24 h5.8 M541.2,460.24 h-5.8" stroke-width="1.35"/><path d="M306.5,454.73 h3 M541.2,454.73 h-3" stroke-width="0.85"/><path d="M306.5,449.22 h3 M541.2,449.22 h-3" stroke-width="0.85"/><path d="M306.5,443.71 h3 M541.2,443.71 h-3" stroke-width="0.85"/><path d="M306.5,438.2 h3 M541.2,438.2 h-3" stroke-width="0.85"/><path d="M306.5,432.69 h5.8 M541.2,432.69 h-5.8" stroke-width="1.35"/><path d="M306.5,427.18 h3 M541.2,427.18 h-3" stroke-width="0.85"/><path d="M306.5,421.67 h3 M541.2,421.67 h-3" stroke-width="0.85"/><path d="M306.5,416.16 h3 M541.2,416.16 h-3" stroke-width="0.85"/><path d="M306.5,410.65 h3 M541.2,410.65 h-3" stroke-width="0.85"/><path d="M306.5,405.14 h5.8 M541.2,405.14 h-5.8" stroke-width="1.35"/><path d="M306.5,399.63 h3 M541.2,399.63 h-3" stroke-width="0.85"/><path d="M306.5,394.12 h3 M541.2,394.12 h-3" stroke-width="0.85"/><path d="M306.5,388.61 h3 M541.2,388.61 h-3" stroke-width="0.85"/><path d="M306.5,383.1 h3 M541.2,383.1 h-3" stroke-width="0.85"/><path d="M306.5,377.59 h5.8 M541.2,377.59 h-5.8" stroke-width="1.35"/><path d="M306.5,372.08 h3 M541.2,372.08 h-3" stroke-width="0.85"/><path d="M306.5,366.57 h3 M541.2,366.57 h-3" stroke-width="0.85"/><path d="M306.5,361.06 h3 M541.2,361.06 h-3" stroke-width="0.85"/><path d="M306.5,355.55 h3 M541.2,355.55 h-3" stroke-width="0.85"/><path d="M306.5,350.05 h5.8 M541.2,350.05 h-5.8" stroke-width="1.35"/><path d="M306.5,344.54 h3 M541.2,344.54 h-3" stroke-width="0.85"/><path d="M306.5,339.03 h3 M541.2,339.03 h-3" stroke-width="0.85"/><path d="M306.5,333.52 h3 M541.2,333.52 h-3" stroke-width="0.85"/><path d="M306.5,328.01 h3 M541.2,328.01 h-3" stroke-width="0.85"/><path d="M306.5,322.5 h5.8 M541.2,322.5 h-5.8" stroke-width="1.35"/><path d="M306.5,316.99 h3 M541.2,316.99 h-3" stroke-width="0.85"/><path d="M306.5,311.48 h3 M541.2,311.48 h-3" stroke-width="0.85"/><path d="M306.5,305.97 h3 M541.2,305.97 h-3" stroke-width="0.85"/><path d="M306.5,300.46 h3 M541.2,300.46 h-3" stroke-width="0.85"/><path d="M306.5,294.95 h5.8 M541.2,294.95 h-5.8" stroke-width="1.35"/><path d="M306.5,289.44 h3 M541.2,289.44 h-3" stroke-width="0.85"/><path d="M306.5,283.93 h3 M541.2,283.93 h-3" stroke-width="0.85"/><path d="M306.5,278.42 h3 M541.2,278.42 h-3" stroke-width="0.85"/><path d="M306.5,272.91 h3 M541.2,272.91 h-3" stroke-width="0.85"/></g>
<rect x="306.5" y="267.4" width="234.7" height="213.5" fill="none" stroke="#000" stroke-width="1.3"/>
<g font-family='"Liberation Sans", Arial, sans-serif' font-size="8.5" fill="#1e1e1e" text-anchor="middle"><text x="323.89" y="489.3">320</text><text x="358.66" y="489.3">360</text><text x="393.43" y="489.3">400</text><text x="428.2" y="489.3">440</text><text x="462.97" y="489.3">480</text><text x="497.74" y="489.3">520</text><text x="532.51" y="489.3">560</text></g>
<g font-family='"Liberation Sans", Arial, sans-serif' font-size="8.5" fill="#1e1e1e" text-anchor="end"><text x="302.8" y="463.24">0.12</text><text x="302.8" y="435.69">0.16</text><text x="302.8" y="408.14">0.2</text><text x="302.8" y="380.59">0.24</text><text x="302.8" y="353.05">0.28</text><text x="302.8" y="325.5">0.32</text><text x="302.8" y="297.95">0.36</text><text x="302.8" y="270.4">0.4</text></g>
<text x="380" y="500.9" font-family='"Liberation Serif", "Times New Roman", serif' font-weight="bold" font-size="9.2" fill="#111" textLength="88.2" lengthAdjust="spacingAndGlyphs">TEMPERATURE (K)</text>
<text transform="translate(284.4,415.8) rotate(-90)" font-family='"Liberation Serif", "Times New Roman", serif' font-weight="bold" font-size="9.2" fill="#111" textLength="83.8" lengthAdjust="spacingAndGlyphs">DOOR HEIGHT (m)</text>
<text x="422.3" y="518.2" font-family='"Liberation Serif", "Times New Roman", serif' font-weight="bold" font-size="12.5" fill="#111" text-anchor="middle">(d)</text>
</svg>
</body></html>
